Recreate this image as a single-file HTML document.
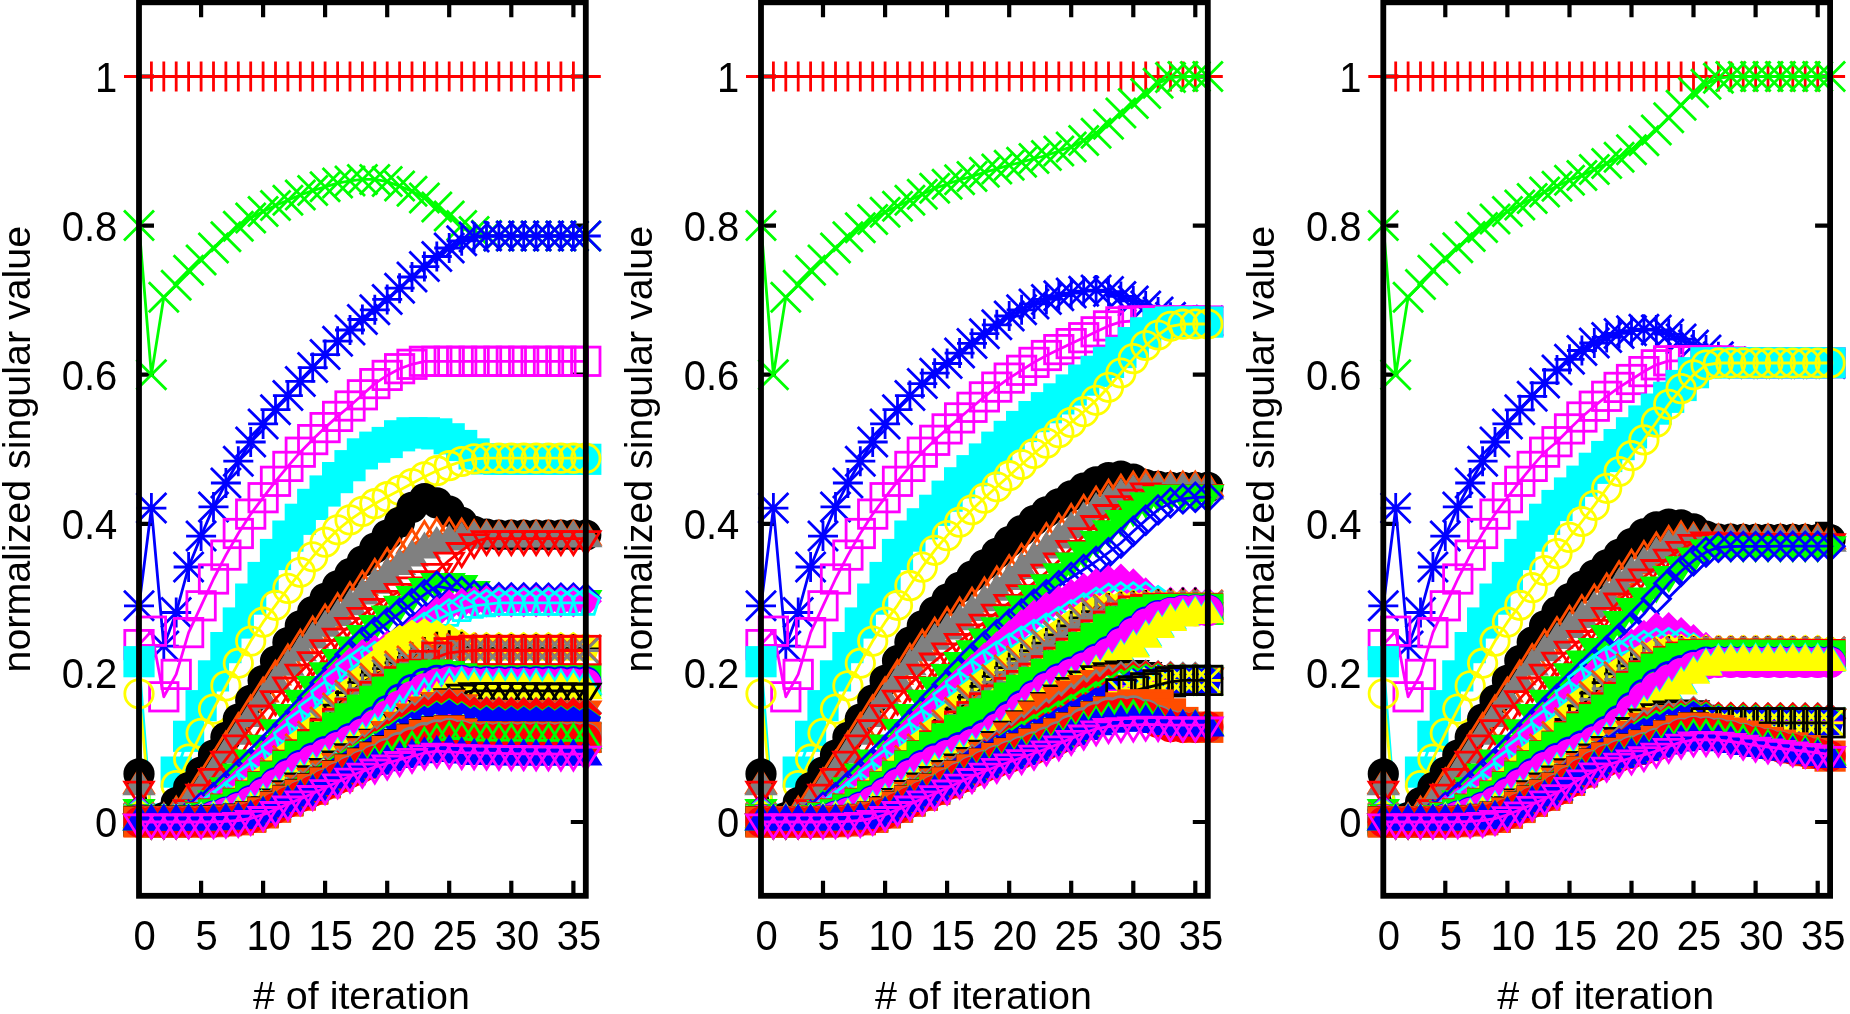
<!DOCTYPE html>
<html><head><meta charset="utf-8"><title>normalized singular value vs # of iteration</title>
<style>html,body{margin:0;padding:0;background:#fff}svg{display:block;filter:blur(0.55px)}</style></head>
<body>
<svg width="1850" height="1014" viewBox="0 0 1850 1014">
<defs>
<marker id="m1" markerUnits="userSpaceOnUse" markerWidth="44" markerHeight="44" refX="0" refY="0" viewBox="-22 -22 44 44" orient="0" overflow="visible"><path d="M-15.0 0H15.0M0 -15.0V15.0" stroke="#ff0000" stroke-width="2.8" fill="none"/></marker>
<marker id="m2" markerUnits="userSpaceOnUse" markerWidth="44" markerHeight="44" refX="0" refY="0" viewBox="-22 -22 44 44" orient="0" overflow="visible"><path d="M-15.0 -15.0L15.0 15.0M-15.0 15.0L15.0 -15.0" stroke="#00ff00" stroke-width="2.8" fill="none"/></marker>
<marker id="m3" markerUnits="userSpaceOnUse" markerWidth="44" markerHeight="44" refX="0" refY="0" viewBox="-22 -22 44 44" orient="0" overflow="visible"><path d="M-15.0 0H15.0M0 -15.0V15.0M-15.0 -15.0L15.0 15.0M-15.0 15.0L15.0 -15.0" stroke="#0000ff" stroke-width="2.8" fill="none"/></marker>
<marker id="m4" markerUnits="userSpaceOnUse" markerWidth="44" markerHeight="44" refX="0" refY="0" viewBox="-22 -22 44 44" orient="0" overflow="visible"><rect x="-14.2" y="-14.2" width="28.4" height="28.4" stroke="#ff00ff" stroke-width="2.8" fill="none"/></marker>
<marker id="m5" markerUnits="userSpaceOnUse" markerWidth="44" markerHeight="44" refX="0" refY="0" viewBox="-22 -22 44 44" orient="0" overflow="visible"><rect x="-14.2" y="-14.2" width="28.4" height="28.4" fill="#00ffff" stroke="#00ffff" stroke-width="2.8"/></marker>
<marker id="m6" markerUnits="userSpaceOnUse" markerWidth="44" markerHeight="44" refX="0" refY="0" viewBox="-22 -22 44 44" orient="0" overflow="visible"><circle r="14.2" stroke="#ffff00" stroke-width="2.8" fill="none"/></marker>
<marker id="m7" markerUnits="userSpaceOnUse" markerWidth="44" markerHeight="44" refX="0" refY="0" viewBox="-22 -22 44 44" orient="0" overflow="visible"><circle r="14.2" fill="#000000" stroke="#000000" stroke-width="2.8"/></marker>
<marker id="m8" markerUnits="userSpaceOnUse" markerWidth="44" markerHeight="44" refX="0" refY="0" viewBox="-22 -22 44 44" orient="0" overflow="visible"><path d="M0 -15.90L-14.2 7.10H14.2Z" stroke="#ff4d00" stroke-width="2.8" fill="none"/></marker>
<marker id="m9" markerUnits="userSpaceOnUse" markerWidth="44" markerHeight="44" refX="0" refY="0" viewBox="-22 -22 44 44" orient="0" overflow="visible"><path d="M0 -15.90L-14.2 7.10H14.2Z" fill="#808080" stroke="#808080" stroke-width="2.8"/></marker>
<marker id="m10" markerUnits="userSpaceOnUse" markerWidth="44" markerHeight="44" refX="0" refY="0" viewBox="-22 -22 44 44" orient="0" overflow="visible"><path d="M0 15.90L-14.2 -7.10H14.2Z" stroke="#ff0000" stroke-width="2.8" fill="none"/></marker>
<marker id="m11" markerUnits="userSpaceOnUse" markerWidth="44" markerHeight="44" refX="0" refY="0" viewBox="-22 -22 44 44" orient="0" overflow="visible"><path d="M0 15.90L-14.2 -7.10H14.2Z" fill="#00ff00" stroke="#00ff00" stroke-width="2.8"/></marker>
<marker id="m12" markerUnits="userSpaceOnUse" markerWidth="44" markerHeight="44" refX="0" refY="0" viewBox="-22 -22 44 44" orient="0" overflow="visible"><path d="M0 -14.2L-14.2 0L0 14.2L14.2 0Z" stroke="#0000ff" stroke-width="2.8" fill="none"/></marker>
<marker id="m13" markerUnits="userSpaceOnUse" markerWidth="44" markerHeight="44" refX="0" refY="0" viewBox="-22 -22 44 44" orient="0" overflow="visible"><path d="M0 -14.2L-14.2 0L0 14.2L14.2 0Z" fill="#ff00ff" stroke="#ff00ff" stroke-width="2.8"/></marker>
<marker id="m14" markerUnits="userSpaceOnUse" markerWidth="44" markerHeight="44" refX="0" refY="0" viewBox="-22 -22 44 44" orient="0" overflow="visible"><path d="M0.00 -14.20L-13.51 -4.39L-8.35 11.49L8.35 11.49L13.51 -4.39Z" stroke="#00ffff" stroke-width="2.8" fill="none"/></marker>
<marker id="m15" markerUnits="userSpaceOnUse" markerWidth="44" markerHeight="44" refX="0" refY="0" viewBox="-22 -22 44 44" orient="0" overflow="visible"><path d="M0.00 -14.20L-13.51 -4.39L-8.35 11.49L8.35 11.49L13.51 -4.39Z" fill="#ffff00" stroke="#ffff00" stroke-width="2.8"/></marker>
<marker id="m16" markerUnits="userSpaceOnUse" markerWidth="44" markerHeight="44" refX="0" refY="0" viewBox="-22 -22 44 44" orient="0" overflow="visible"><path d="M-15.0 0H15.0M0 -15.0V15.0" stroke="#000000" stroke-width="2.8" fill="none"/></marker>
<marker id="m17" markerUnits="userSpaceOnUse" markerWidth="44" markerHeight="44" refX="0" refY="0" viewBox="-22 -22 44 44" orient="0" overflow="visible"><path d="M-15.0 -15.0L15.0 15.0M-15.0 15.0L15.0 -15.0" stroke="#ff4d00" stroke-width="2.8" fill="none"/></marker>
<marker id="m18" markerUnits="userSpaceOnUse" markerWidth="44" markerHeight="44" refX="0" refY="0" viewBox="-22 -22 44 44" orient="0" overflow="visible"><path d="M-15.0 0H15.0M0 -15.0V15.0M-15.0 -15.0L15.0 15.0M-15.0 15.0L15.0 -15.0" stroke="#808080" stroke-width="2.8" fill="none"/></marker>
<marker id="m19" markerUnits="userSpaceOnUse" markerWidth="44" markerHeight="44" refX="0" refY="0" viewBox="-22 -22 44 44" orient="0" overflow="visible"><rect x="-14.2" y="-14.2" width="28.4" height="28.4" stroke="#ff0000" stroke-width="2.8" fill="none"/></marker>
<marker id="m20" markerUnits="userSpaceOnUse" markerWidth="44" markerHeight="44" refX="0" refY="0" viewBox="-22 -22 44 44" orient="0" overflow="visible"><rect x="-14.2" y="-14.2" width="28.4" height="28.4" fill="#00ff00" stroke="#00ff00" stroke-width="2.8"/></marker>
<marker id="m21" markerUnits="userSpaceOnUse" markerWidth="44" markerHeight="44" refX="0" refY="0" viewBox="-22 -22 44 44" orient="0" overflow="visible"><circle r="14.2" stroke="#0000ff" stroke-width="2.8" fill="none"/></marker>
<marker id="m22" markerUnits="userSpaceOnUse" markerWidth="44" markerHeight="44" refX="0" refY="0" viewBox="-22 -22 44 44" orient="0" overflow="visible"><circle r="14.2" fill="#ff00ff" stroke="#ff00ff" stroke-width="2.8"/></marker>
<marker id="m23" markerUnits="userSpaceOnUse" markerWidth="44" markerHeight="44" refX="0" refY="0" viewBox="-22 -22 44 44" orient="0" overflow="visible"><path d="M0 -15.90L-14.2 7.10H14.2Z" stroke="#00ffff" stroke-width="2.8" fill="none"/></marker>
<marker id="m24" markerUnits="userSpaceOnUse" markerWidth="44" markerHeight="44" refX="0" refY="0" viewBox="-22 -22 44 44" orient="0" overflow="visible"><path d="M0 -15.90L-14.2 7.10H14.2Z" fill="#ffff00" stroke="#ffff00" stroke-width="2.8"/></marker>
<marker id="m25" markerUnits="userSpaceOnUse" markerWidth="44" markerHeight="44" refX="0" refY="0" viewBox="-22 -22 44 44" orient="0" overflow="visible"><path d="M0 15.90L-14.2 -7.10H14.2Z" stroke="#000000" stroke-width="2.8" fill="none"/></marker>
<marker id="m26" markerUnits="userSpaceOnUse" markerWidth="44" markerHeight="44" refX="0" refY="0" viewBox="-22 -22 44 44" orient="0" overflow="visible"><path d="M0 15.90L-14.2 -7.10H14.2Z" fill="#ff4d00" stroke="#ff4d00" stroke-width="2.8"/></marker>
<marker id="m27" markerUnits="userSpaceOnUse" markerWidth="44" markerHeight="44" refX="0" refY="0" viewBox="-22 -22 44 44" orient="0" overflow="visible"><path d="M0 -14.2L-14.2 0L0 14.2L14.2 0Z" stroke="#808080" stroke-width="2.8" fill="none"/></marker>
<marker id="m28" markerUnits="userSpaceOnUse" markerWidth="44" markerHeight="44" refX="0" refY="0" viewBox="-22 -22 44 44" orient="0" overflow="visible"><path d="M0 -14.2L-14.2 0L0 14.2L14.2 0Z" fill="#ff0000" stroke="#ff0000" stroke-width="2.8"/></marker>
<marker id="m29" markerUnits="userSpaceOnUse" markerWidth="44" markerHeight="44" refX="0" refY="0" viewBox="-22 -22 44 44" orient="0" overflow="visible"><path d="M0.00 -14.20L-13.51 -4.39L-8.35 11.49L8.35 11.49L13.51 -4.39Z" stroke="#00ff00" stroke-width="2.8" fill="none"/></marker>
<marker id="m30" markerUnits="userSpaceOnUse" markerWidth="44" markerHeight="44" refX="0" refY="0" viewBox="-22 -22 44 44" orient="0" overflow="visible"><path d="M0.00 -14.20L-13.51 -4.39L-8.35 11.49L8.35 11.49L13.51 -4.39Z" fill="#0000ff" stroke="#0000ff" stroke-width="2.8"/></marker>
<marker id="m31" markerUnits="userSpaceOnUse" markerWidth="44" markerHeight="44" refX="0" refY="0" viewBox="-22 -22 44 44" orient="0" overflow="visible"><path d="M-15.0 0H15.0M0 -15.0V15.0" stroke="#ff00ff" stroke-width="2.8" fill="none"/></marker>
<marker id="m32" markerUnits="userSpaceOnUse" markerWidth="44" markerHeight="44" refX="0" refY="0" viewBox="-22 -22 44 44" orient="0" overflow="visible"><path d="M-15.0 -15.0L15.0 15.0M-15.0 15.0L15.0 -15.0" stroke="#00ffff" stroke-width="2.8" fill="none"/></marker>
<marker id="m33" markerUnits="userSpaceOnUse" markerWidth="44" markerHeight="44" refX="0" refY="0" viewBox="-22 -22 44 44" orient="0" overflow="visible"><path d="M-15.0 0H15.0M0 -15.0V15.0M-15.0 -15.0L15.0 15.0M-15.0 15.0L15.0 -15.0" stroke="#ffff00" stroke-width="2.8" fill="none"/></marker>
<marker id="m34" markerUnits="userSpaceOnUse" markerWidth="44" markerHeight="44" refX="0" refY="0" viewBox="-22 -22 44 44" orient="0" overflow="visible"><rect x="-14.2" y="-14.2" width="28.4" height="28.4" stroke="#000000" stroke-width="2.8" fill="none"/></marker>
<marker id="m35" markerUnits="userSpaceOnUse" markerWidth="44" markerHeight="44" refX="0" refY="0" viewBox="-22 -22 44 44" orient="0" overflow="visible"><rect x="-14.2" y="-14.2" width="28.4" height="28.4" fill="#ff4d00" stroke="#ff4d00" stroke-width="2.8"/></marker>
<marker id="m36" markerUnits="userSpaceOnUse" markerWidth="44" markerHeight="44" refX="0" refY="0" viewBox="-22 -22 44 44" orient="0" overflow="visible"><circle r="14.2" stroke="#808080" stroke-width="2.8" fill="none"/></marker>
<marker id="m37" markerUnits="userSpaceOnUse" markerWidth="44" markerHeight="44" refX="0" refY="0" viewBox="-22 -22 44 44" orient="0" overflow="visible"><circle r="14.2" fill="#ff0000" stroke="#ff0000" stroke-width="2.8"/></marker>
<marker id="m38" markerUnits="userSpaceOnUse" markerWidth="44" markerHeight="44" refX="0" refY="0" viewBox="-22 -22 44 44" orient="0" overflow="visible"><path d="M0 -15.90L-14.2 7.10H14.2Z" stroke="#00ff00" stroke-width="2.8" fill="none"/></marker>
<marker id="m39" markerUnits="userSpaceOnUse" markerWidth="44" markerHeight="44" refX="0" refY="0" viewBox="-22 -22 44 44" orient="0" overflow="visible"><path d="M0 -15.90L-14.2 7.10H14.2Z" fill="#0000ff" stroke="#0000ff" stroke-width="2.8"/></marker>
<marker id="m40" markerUnits="userSpaceOnUse" markerWidth="44" markerHeight="44" refX="0" refY="0" viewBox="-22 -22 44 44" orient="0" overflow="visible"><path d="M0 15.90L-14.2 -7.10H14.2Z" stroke="#ff00ff" stroke-width="2.8" fill="none"/></marker>
</defs>
<rect width="1850" height="1014" fill="#fff"/>
<path d="M201.1 895.8v-15M201.1 2.3v15M263.1 895.8v-15M263.1 2.3v15M325.1 895.8v-15M325.1 2.3v15M387.2 895.8v-15M387.2 2.3v15M449.2 895.8v-15M449.2 2.3v15M511.3 895.8v-15M511.3 2.3v15M573.4 895.8v-15M573.4 2.3v15M139.0 822.0h15M585.8 822.0h-15M139.0 672.9h15M585.8 672.9h-15M139.0 523.8h15M585.8 523.8h-15M139.0 374.7h15M585.8 374.7h-15M139.0 225.6h15M585.8 225.6h-15M139.0 76.5h15M585.8 76.5h-15" stroke="#000" stroke-width="4.2" fill="none"/>
<path d="M823.0 895.8v-15M823.0 2.3v15M885.1 895.8v-15M885.1 2.3v15M947.1 895.8v-15M947.1 2.3v15M1009.2 895.8v-15M1009.2 2.3v15M1071.2 895.8v-15M1071.2 2.3v15M1133.3 895.8v-15M1133.3 2.3v15M1195.3 895.8v-15M1195.3 2.3v15M761.0 822.0h15M1207.8 822.0h-15M761.0 672.9h15M1207.8 672.9h-15M761.0 523.8h15M1207.8 523.8h-15M761.0 374.7h15M1207.8 374.7h-15M761.0 225.6h15M1207.8 225.6h-15M761.0 76.5h15M1207.8 76.5h-15" stroke="#000" stroke-width="4.2" fill="none"/>
<path d="M1445.3 895.8v-15M1445.3 2.3v15M1507.4 895.8v-15M1507.4 2.3v15M1569.5 895.8v-15M1569.5 2.3v15M1631.5 895.8v-15M1631.5 2.3v15M1693.5 895.8v-15M1693.5 2.3v15M1755.6 895.8v-15M1755.6 2.3v15M1817.7 895.8v-15M1817.7 2.3v15M1383.3 822.0h15M1830.1 822.0h-15M1383.3 672.9h15M1830.1 672.9h-15M1383.3 523.8h15M1830.1 523.8h-15M1383.3 374.7h15M1830.1 374.7h-15M1383.3 225.6h15M1830.1 225.6h-15M1383.3 76.5h15M1830.1 76.5h-15" stroke="#000" stroke-width="4.2" fill="none"/>
<polyline points="139.0,76.5 151.4,76.5 163.8,76.5 176.2,76.5 188.6,76.5 201.1,76.5 213.5,76.5 225.9,76.5 238.3,76.5 250.7,76.5 263.1,76.5 275.5,76.5 287.9,76.5 300.3,76.5 312.7,76.5 325.1,76.5 337.6,76.5 350.0,76.5 362.4,76.5 374.8,76.5 387.2,76.5 399.6,76.5 412.0,76.5 424.4,76.5 436.8,76.5 449.2,76.5 461.7,76.5 474.1,76.5 486.5,76.5 498.9,76.5 511.3,76.5 523.7,76.5 536.1,76.5 548.5,76.5 560.9,76.5 573.4,76.5 585.8,76.5" fill="none" stroke="#ff0000" stroke-width="2.8" stroke-linejoin="round" marker-start="url(#m1)" marker-mid="url(#m1)" marker-end="url(#m1)"/>
<polyline points="139.0,225.6 151.4,374.7 163.8,297.2 176.2,285.2 188.6,270.3 201.1,259.9 213.5,248.0 225.9,236.8 238.3,226.3 250.7,218.1 263.1,211.4 275.5,205.5 287.9,200.3 300.3,195.0 312.7,190.6 325.1,186.8 337.6,183.1 350.0,180.9 362.4,179.4 374.8,179.4 387.2,181.6 399.6,186.1 412.0,191.3 424.4,198.0 436.8,207.0 449.2,215.9 461.7,225.6 474.1,231.6 486.5,235.3 498.9,236.0 511.3,236.0 523.7,236.0 536.1,236.0 548.5,236.0 560.9,236.0 573.4,236.0 585.8,236.0" fill="none" stroke="#00ff00" stroke-width="2.8" stroke-linejoin="round" marker-start="url(#m2)" marker-mid="url(#m2)" marker-end="url(#m2)"/>
<polyline points="139.0,605.8 151.4,508.1 163.8,646.1 176.2,612.5 188.6,567.0 201.1,536.1 213.5,506.9 225.9,483.0 238.3,461.2 250.7,442.0 263.1,423.9 275.5,409.7 287.9,395.6 300.3,381.4 312.7,367.6 325.1,354.6 337.6,341.2 350.0,330.0 362.4,319.5 374.8,309.8 387.2,299.4 399.6,288.2 412.0,277.0 424.4,266.6 436.8,256.5 449.2,248.0 461.7,240.8 474.1,237.1 486.5,236.0 498.9,236.0 511.3,236.0 523.7,236.0 536.1,236.0 548.5,236.0 560.9,236.0 573.4,236.0 585.8,236.0" fill="none" stroke="#0000ff" stroke-width="2.8" stroke-linejoin="round" marker-start="url(#m3)" marker-mid="url(#m3)" marker-end="url(#m3)"/>
<polyline points="139.0,644.6 151.4,631.2 163.8,696.8 176.2,674.4 188.6,632.6 201.1,605.8 213.5,579.0 225.9,555.1 238.3,533.5 250.7,514.1 263.1,497.7 275.5,481.3 287.9,466.4 300.3,452.2 312.7,439.6 325.1,427.6 337.6,416.4 350.0,406.0 362.4,394.8 374.8,383.6 387.2,375.4 399.6,368.7 412.0,364.3 424.4,361.3 436.8,361.3 449.2,361.3 461.7,361.3 474.1,361.3 486.5,361.3 498.9,361.3 511.3,361.3 523.7,361.3 536.1,361.3 548.5,361.3 560.9,361.3 573.4,361.3 585.8,361.3" fill="none" stroke="#ff00ff" stroke-width="2.8" stroke-linejoin="round" marker-start="url(#m4)" marker-mid="url(#m4)" marker-end="url(#m4)"/>
<polyline points="139.0,661.7 151.4,820.5 163.8,819.0 176.2,772.1 188.6,736.3 201.1,705.7 213.5,675.9 225.9,647.6 238.3,623.0 250.7,599.1 263.1,577.5 275.5,554.5 287.9,536.1 300.3,519.3 312.7,504.4 325.1,491.0 337.6,477.6 350.0,465.7 362.4,453.9 374.8,447.2 387.2,442.5 399.6,435.8 412.0,432.8 424.4,432.8 436.8,433.9 449.2,438.8 461.7,445.5 474.1,453.9 486.5,458.9 498.9,459.3 511.3,459.3 523.7,459.3 536.1,459.3 548.5,459.3 560.9,459.3 573.4,459.3 585.8,459.3" fill="none" stroke="#00ffff" stroke-width="2.8" stroke-linejoin="round" marker-start="url(#m5)" marker-mid="url(#m5)" marker-end="url(#m5)"/>
<polyline points="139.0,693.8 151.4,820.5 163.8,819.8 176.2,785.5 188.6,759.0 201.1,733.3 213.5,709.1 225.9,685.9 238.3,663.2 250.7,641.1 263.1,622.2 275.5,605.3 287.9,588.4 300.3,572.3 312.7,556.8 325.1,542.2 337.6,529.8 350.0,519.9 362.4,511.4 374.8,503.7 387.2,496.7 399.6,490.3 412.0,483.6 424.4,476.8 436.8,470.7 449.2,465.7 461.7,461.5 474.1,458.9 486.5,458.2 498.9,458.2 511.3,458.2 523.7,458.2 536.1,458.2 548.5,458.2 560.9,458.2 573.4,458.2 585.8,458.2" fill="none" stroke="#ffff00" stroke-width="2.8" stroke-linejoin="round" marker-start="url(#m6)" marker-mid="url(#m6)" marker-end="url(#m6)"/>
<polyline points="139.0,773.9 151.4,819.8 163.8,817.5 176.2,802.6 188.6,787.6 201.1,772.1 213.5,755.1 225.9,737.3 238.3,719.1 250.7,700.3 263.1,680.6 275.5,661.1 287.9,642.5 300.3,625.9 312.7,611.5 325.1,598.3 337.6,585.9 350.0,573.7 362.4,561.1 374.8,548.0 387.2,535.0 399.6,522.3 412.0,507.4 424.4,498.7 436.8,502.9 449.2,511.1 461.7,522.3 474.1,531.3 486.5,534.2 498.9,535.0 511.3,535.0 523.7,535.0 536.1,535.0 548.5,535.0 560.9,535.0 573.4,535.0 585.8,535.0" fill="none" stroke="#000000" stroke-width="2.8" stroke-linejoin="round" marker-start="url(#m7)" marker-mid="url(#m7)" marker-end="url(#m7)"/>
<polyline points="139.0,785.5 151.4,819.8 163.8,819.8 176.2,813.1 188.6,800.7 201.1,784.7 213.5,767.3 225.9,748.1 238.3,729.6 250.7,711.8 263.1,694.1 275.5,677.0 287.9,660.8 300.3,646.1 312.7,632.9 325.1,620.9 337.6,609.6 350.0,598.5 362.4,587.2 374.8,575.4 387.2,564.3 399.6,554.8 412.0,545.3 424.4,537.4 436.8,534.2 449.2,534.2 461.7,535.0 474.1,536.5 486.5,537.2 498.9,537.2 511.3,537.2 523.7,537.2 536.1,537.2 548.5,537.2 560.9,537.2 573.4,537.2 585.8,537.2" fill="none" stroke="#ff4d00" stroke-width="2.8" stroke-linejoin="round" marker-start="url(#m8)" marker-mid="url(#m8)" marker-end="url(#m8)"/>
<polyline points="139.0,786.7 151.4,820.5 163.8,820.5 176.2,816.0 188.6,805.5 201.1,790.7 213.5,773.9 225.9,754.9 238.3,736.3 250.7,718.6 263.1,700.8 275.5,683.5 287.9,667.3 300.3,652.8 312.7,640.0 325.1,628.3 337.6,617.4 350.0,606.8 362.4,596.1 374.8,585.3 387.2,575.2 399.6,566.6 412.0,557.9 424.4,550.1 436.8,544.5 449.2,542.1 461.7,540.2 474.1,538.7 486.5,538.7 498.9,538.7 511.3,538.7 523.7,538.7 536.1,538.7 548.5,538.7 560.9,538.7 573.4,538.7 585.8,538.7" fill="none" stroke="#808080" stroke-width="2.8" stroke-linejoin="round" marker-start="url(#m9)" marker-mid="url(#m9)" marker-end="url(#m9)"/>
<polyline points="139.0,789.2 151.4,821.3 163.8,821.3 176.2,818.3 188.6,807.7 201.1,792.2 213.5,776.4 225.9,759.3 238.3,743.0 250.7,727.8 263.1,713.1 275.5,698.8 287.9,685.1 300.3,672.2 312.7,659.7 325.1,647.7 337.6,636.3 350.0,625.5 362.4,615.5 374.8,606.4 387.2,598.4 399.6,591.4 412.0,584.9 424.4,578.7 436.8,571.5 449.2,560.3 461.7,550.6 474.1,541.7 486.5,538.7 498.9,538.7 511.3,538.7 523.7,538.7 536.1,538.7 548.5,538.7 560.9,538.7 573.4,538.7 585.8,538.7" fill="none" stroke="#ff0000" stroke-width="2.8" stroke-linejoin="round" marker-start="url(#m10)" marker-mid="url(#m10)" marker-end="url(#m10)"/>
<polyline points="139.0,807.6 151.4,822.0 163.8,822.0 176.2,819.8 188.6,815.3 201.1,808.6 213.5,798.7 225.9,785.7 238.3,772.1 250.7,758.1 263.1,743.2 275.5,727.8 287.9,712.6 300.3,698.2 312.7,684.4 325.1,670.7 337.6,657.4 350.0,644.9 362.4,633.4 374.8,623.4 387.2,614.0 399.6,604.3 412.0,594.6 424.4,586.4 436.8,581.5 449.2,581.5 461.7,583.4 474.1,589.4 486.5,596.1 498.9,598.4 511.3,598.4 523.7,598.4 536.1,598.4 548.5,598.4 560.9,598.4 573.4,598.4 585.8,598.4" fill="none" stroke="#00ff00" stroke-width="2.8" stroke-linejoin="round" marker-start="url(#m11)" marker-mid="url(#m11)" marker-end="url(#m11)"/>
<polyline points="139.0,810.1 151.4,822.0 163.8,822.0 176.2,820.5 188.6,815.3 201.1,807.1 213.5,797.7 225.9,786.7 238.3,775.0 250.7,763.2 263.1,750.8 275.5,738.0 287.9,724.9 300.3,711.7 312.7,697.8 325.1,683.1 337.6,668.4 350.0,654.5 362.4,642.3 374.8,632.3 387.2,623.0 399.6,613.2 412.0,603.6 424.4,594.6 436.8,586.2 449.2,588.7 461.7,591.6 474.1,595.4 486.5,597.6 498.9,597.8 511.3,597.9 523.7,598.0 536.1,598.0 548.5,598.1 560.9,598.1 573.4,598.1 585.8,598.1" fill="none" stroke="#0000ff" stroke-width="2.8" stroke-linejoin="round" marker-start="url(#m12)" marker-mid="url(#m12)" marker-end="url(#m12)"/>
<polyline points="139.0,810.8 151.4,822.0 163.8,822.0 176.2,821.3 188.6,817.4 201.1,810.8 213.5,803.1 225.9,793.6 238.3,783.2 250.7,771.7 263.1,758.9 275.5,745.3 287.9,731.6 300.3,718.4 312.7,704.5 325.1,689.6 337.6,675.3 350.0,663.2 362.4,655.0 374.8,650.8 387.2,646.8 399.6,640.7 412.0,632.6 424.4,621.5 436.8,612.5 449.2,605.8 461.7,603.6 474.1,602.1 486.5,601.3 498.9,601.3 511.3,601.3 523.7,601.3 536.1,601.3 548.5,601.3 560.9,601.3 573.4,601.3 585.8,601.3" fill="none" stroke="#ff00ff" stroke-width="2.8" stroke-linejoin="round" marker-start="url(#m13)" marker-mid="url(#m13)" marker-end="url(#m13)"/>
<polyline points="139.0,813.1 151.4,822.0 163.8,822.0 176.2,822.0 188.6,819.0 201.1,813.1 213.5,806.2 225.9,797.4 238.3,787.7 250.7,776.8 263.1,764.3 275.5,751.0 287.9,737.4 300.3,724.3 312.7,710.6 325.1,695.9 337.6,681.7 350.0,669.5 362.4,661.0 374.8,656.4 387.2,652.0 399.6,644.4 412.0,635.6 424.4,627.4 436.8,620.0 449.2,613.9 461.7,609.1 474.1,605.8 486.5,604.3 498.9,602.8 511.3,602.8 523.7,602.8 536.1,602.8 548.5,602.8 560.9,602.8 573.4,602.8 585.8,602.8" fill="none" stroke="#00ffff" stroke-width="2.8" stroke-linejoin="round" marker-start="url(#m14)" marker-mid="url(#m14)" marker-end="url(#m14)"/>
<polyline points="139.0,814.5 151.4,822.0 163.8,822.0 176.2,822.0 188.6,820.0 201.1,816.0 213.5,811.5 225.9,805.8 238.3,798.9 250.7,790.3 263.1,779.6 275.5,767.7 287.9,755.3 300.3,743.0 312.7,730.7 325.1,717.9 337.6,704.9 350.0,691.8 362.4,678.9 374.8,664.9 387.2,650.9 399.6,640.8 412.0,635.6 424.4,634.1 436.8,635.6 449.2,639.4 461.7,644.6 474.1,647.6 486.5,647.6 498.9,647.6 511.3,647.6 523.7,647.6 536.1,647.6 548.5,647.6 560.9,647.6 573.4,647.6 585.8,647.6" fill="none" stroke="#ffff00" stroke-width="2.8" stroke-linejoin="round" marker-start="url(#m15)" marker-mid="url(#m15)" marker-end="url(#m15)"/>
<polyline points="139.0,816.0 151.4,822.0 163.8,822.0 176.2,822.0 188.6,820.3 201.1,816.8 213.5,812.6 225.9,807.0 238.3,800.4 250.7,792.1 263.1,781.7 275.5,770.1 287.9,758.0 300.3,746.0 312.7,733.2 325.1,719.2 337.6,705.2 350.0,692.6 362.4,682.6 374.8,675.0 387.2,668.6 399.6,662.8 412.0,657.4 424.4,652.0 436.8,646.8 449.2,645.3 461.7,646.8 474.1,649.0 486.5,649.0 498.9,649.0 511.3,649.0 523.7,649.0 536.1,649.0 548.5,649.0 560.9,649.0 573.4,649.0 585.8,649.0" fill="none" stroke="#000000" stroke-width="2.8" stroke-linejoin="round" marker-start="url(#m16)" marker-mid="url(#m16)" marker-end="url(#m16)"/>
<polyline points="139.0,817.5 151.4,822.0 163.8,822.0 176.2,822.0 188.6,820.2 201.1,816.8 213.5,812.9 225.9,807.9 238.3,801.9 250.7,794.0 263.1,784.0 275.5,772.7 287.9,760.8 300.3,748.9 312.7,736.2 325.1,722.1 337.6,708.0 350.0,695.3 362.4,685.6 374.8,678.2 387.2,671.8 399.6,666.1 412.0,661.0 424.4,656.4 436.8,652.0 449.2,648.3 461.7,648.3 474.1,649.8 486.5,649.8 498.9,649.8 511.3,649.8 523.7,649.8 536.1,649.8 548.5,649.8 560.9,649.8 573.4,649.8 585.8,649.8" fill="none" stroke="#ff4d00" stroke-width="2.8" stroke-linejoin="round" marker-start="url(#m17)" marker-mid="url(#m17)" marker-end="url(#m17)"/>
<polyline points="139.0,818.3 151.4,822.0 163.8,822.0 176.2,822.0 188.6,820.5 201.1,817.5 213.5,813.8 225.9,808.7 238.3,802.6 250.7,795.0 263.1,785.5 275.5,774.8 287.9,763.4 300.3,751.9 312.7,739.3 325.1,725.1 337.6,710.9 350.0,698.2 362.4,688.6 374.8,681.3 387.2,674.8 399.6,668.9 412.0,663.6 424.4,659.1 436.8,655.2 449.2,652.0 461.7,649.8 474.1,650.5 486.5,650.5 498.9,650.5 511.3,650.5 523.7,650.5 536.1,650.5 548.5,650.5 560.9,650.5 573.4,650.5 585.8,650.5" fill="none" stroke="#808080" stroke-width="2.8" stroke-linejoin="round" marker-start="url(#m18)" marker-mid="url(#m18)" marker-end="url(#m18)"/>
<polyline points="139.0,819.8 151.4,822.0 163.8,822.0 176.2,822.0 188.6,820.5 201.1,817.5 213.5,813.9 225.9,809.1 238.3,803.4 250.7,796.0 263.1,786.6 275.5,776.1 287.9,765.3 300.3,754.9 312.7,744.6 325.1,734.0 337.6,723.4 350.0,713.3 362.4,704.2 374.8,696.5 387.2,689.3 399.6,681.8 412.0,674.4 424.4,665.4 436.8,657.2 449.2,652.8 461.7,651.3 474.1,650.5 486.5,650.5 498.9,650.5 511.3,650.5 523.7,650.5 536.1,650.5 548.5,650.5 560.9,650.5 573.4,650.5 585.8,650.5" fill="none" stroke="#ff0000" stroke-width="2.8" stroke-linejoin="round" marker-start="url(#m19)" marker-mid="url(#m19)" marker-end="url(#m19)"/>
<polyline points="139.0,819.8 151.4,822.0 163.8,822.0 176.2,822.0 188.6,820.8 201.1,818.3 213.5,814.8 225.9,809.9 238.3,804.1 250.7,796.7 263.1,787.4 275.5,777.0 287.9,766.4 300.3,756.4 312.7,746.9 325.1,737.4 337.6,728.0 350.0,718.9 362.4,710.2 374.8,701.3 387.2,692.3 399.6,684.4 412.0,678.9 424.4,675.9 436.8,675.1 449.2,676.6 461.7,678.9 474.1,681.1 486.5,681.1 498.9,681.1 511.3,681.1 523.7,681.1 536.1,681.1 548.5,681.1 560.9,681.1 573.4,681.1 585.8,681.1" fill="none" stroke="#00ff00" stroke-width="2.8" stroke-linejoin="round" marker-start="url(#m20)" marker-mid="url(#m20)" marker-end="url(#m20)"/>
<polyline points="139.0,819.8 151.4,822.0 163.8,822.0 176.2,822.0 188.6,821.0 201.1,819.0 213.5,816.2 225.9,812.0 238.3,807.1 250.7,800.6 263.1,792.2 275.5,782.9 287.9,773.7 300.3,765.3 312.7,758.2 325.1,751.7 337.6,745.3 350.0,738.5 362.4,731.0 374.8,721.6 387.2,710.5 399.6,699.2 412.0,689.6 424.4,683.3 436.8,680.4 449.2,679.6 461.7,680.4 474.1,681.8 486.5,681.8 498.9,681.8 511.3,681.8 523.7,681.8 536.1,681.8 548.5,681.8 560.9,681.8 573.4,681.8 585.8,681.8" fill="none" stroke="#0000ff" stroke-width="2.8" stroke-linejoin="round" marker-start="url(#m21)" marker-mid="url(#m21)" marker-end="url(#m21)"/>
<polyline points="139.0,819.8 151.4,822.0 163.8,822.0 176.2,822.0 188.6,821.3 201.1,819.8 213.5,817.2 225.9,813.3 238.3,808.6 250.7,802.3 263.1,794.1 275.5,784.9 287.9,775.8 300.3,767.6 312.7,760.6 325.1,754.0 337.6,747.6 350.0,741.1 362.4,734.0 374.8,725.6 387.2,715.9 399.6,705.8 412.0,696.5 424.4,688.9 436.8,684.1 449.2,681.8 461.7,681.8 474.1,683.3 486.5,683.5 498.9,683.5 511.3,683.6 523.7,683.7 536.1,683.7 548.5,683.8 560.9,683.8 573.4,683.8 585.8,683.8" fill="none" stroke="#ff00ff" stroke-width="2.8" stroke-linejoin="round" marker-start="url(#m22)" marker-mid="url(#m22)" marker-end="url(#m22)"/>
<polyline points="139.0,819.8 151.4,822.0 163.8,822.0 176.2,822.0 188.6,821.2 201.1,819.8 213.5,818.1 225.9,815.9 238.3,813.1 250.7,808.4 263.1,801.6 275.5,793.6 287.9,785.1 300.3,777.3 312.7,770.0 325.1,762.7 337.6,755.3 350.0,747.8 362.4,740.0 374.8,731.4 387.2,721.9 399.6,712.3 412.0,703.1 424.4,695.2 436.8,689.3 449.2,685.6 461.7,684.1 474.1,685.6 486.5,685.8 498.9,685.9 511.3,686.0 523.7,686.1 536.1,686.2 548.5,686.3 560.9,686.3 573.4,686.3 585.8,686.3" fill="none" stroke="#00ffff" stroke-width="2.8" stroke-linejoin="round" marker-start="url(#m23)" marker-mid="url(#m23)" marker-end="url(#m23)"/>
<polyline points="139.0,819.8 151.4,822.0 163.8,822.0 176.2,822.0 188.6,821.5 201.1,820.5 213.5,819.2 225.9,817.2 238.3,814.5 250.7,810.2 263.1,803.5 275.5,795.6 287.9,787.3 300.3,779.5 312.7,772.2 325.1,764.6 337.6,757.1 350.0,749.6 362.4,742.2 374.8,734.9 387.2,727.4 399.6,719.9 412.0,712.6 424.4,705.7 436.8,699.4 449.2,693.8 461.7,689.3 474.1,690.0 486.5,690.2 498.9,690.4 511.3,690.5 523.7,690.6 536.1,690.7 548.5,690.7 560.9,690.8 573.4,690.8 585.8,690.8" fill="none" stroke="#ffff00" stroke-width="2.8" stroke-linejoin="round" marker-start="url(#m24)" marker-mid="url(#m24)" marker-end="url(#m24)"/>
<polyline points="139.0,822.0 151.4,822.0 163.8,822.0 176.2,822.0 188.6,821.5 201.1,820.5 213.5,819.3 225.9,817.6 238.3,815.3 250.7,811.2 263.1,804.7 275.5,796.9 287.9,788.7 300.3,781.0 312.7,773.8 325.1,766.4 337.6,759.0 350.0,751.7 362.4,744.5 374.8,737.3 387.2,729.9 399.6,722.5 412.0,715.4 424.4,708.6 436.8,702.3 449.2,696.8 461.7,692.3 474.1,690.8 486.5,690.8 498.9,690.8 511.3,690.8 523.7,690.8 536.1,690.9 548.5,690.9 560.9,691.0 573.4,691.1 585.8,691.2" fill="none" stroke="#000000" stroke-width="2.8" stroke-linejoin="round" marker-start="url(#m25)" marker-mid="url(#m25)" marker-end="url(#m25)"/>
<polyline points="139.0,822.0 151.4,822.0 163.8,822.0 176.2,822.0 188.6,821.5 201.1,820.5 213.5,819.4 225.9,818.0 238.3,816.0 250.7,812.3 263.1,806.1 275.5,798.6 287.9,790.7 300.3,783.2 312.7,776.2 325.1,769.0 337.6,761.6 350.0,754.2 362.4,746.7 374.8,738.5 387.2,729.4 399.6,720.3 412.0,711.9 424.4,705.0 436.8,700.5 449.2,698.2 461.7,702.7 474.1,707.9 486.5,708.2 498.9,708.4 511.3,708.6 523.7,708.7 536.1,708.8 548.5,708.8 560.9,708.9 573.4,708.9 585.8,708.9" fill="none" stroke="#ff4d00" stroke-width="2.8" stroke-linejoin="round" marker-start="url(#m26)" marker-mid="url(#m26)" marker-end="url(#m26)"/>
<polyline points="139.0,822.0 151.4,822.0 163.8,822.0 176.2,822.0 188.6,821.6 201.1,820.7 213.5,819.8 225.9,818.5 238.3,816.8 250.7,813.3 263.1,807.5 275.5,800.4 287.9,792.7 300.3,785.5 312.7,778.5 325.1,771.3 337.6,763.9 350.0,756.5 362.4,749.1 374.8,741.3 387.2,732.8 399.6,724.3 412.0,716.4 424.4,710.0 436.8,705.7 449.2,703.5 461.7,707.2 474.1,711.7 486.5,712.0 498.9,712.2 511.3,712.4 523.7,712.5 536.1,712.6 548.5,712.7 560.9,712.8 573.4,712.8 585.8,712.8" fill="none" stroke="#808080" stroke-width="2.8" stroke-linejoin="round" marker-start="url(#m27)" marker-mid="url(#m27)" marker-end="url(#m27)"/>
<polyline points="139.0,822.0 151.4,822.0 163.8,822.0 176.2,822.0 188.6,821.6 201.1,820.9 213.5,820.1 225.9,819.0 238.3,817.5 250.7,814.3 263.1,808.9 275.5,802.1 287.9,794.7 300.3,787.7 312.7,780.9 325.1,773.8 337.6,766.4 350.0,758.9 362.4,751.6 374.8,743.8 387.2,735.5 399.6,727.2 412.0,719.4 424.4,712.8 436.8,707.9 449.2,705.0 461.7,708.7 474.1,712.4 486.5,712.7 498.9,712.9 511.3,713.0 523.7,713.2 536.1,713.3 548.5,713.3 560.9,713.4 573.4,713.4 585.8,713.4" fill="none" stroke="#ff0000" stroke-width="2.8" stroke-linejoin="round" marker-start="url(#m28)" marker-mid="url(#m28)" marker-end="url(#m28)"/>
<polyline points="139.0,822.0 151.4,822.0 163.8,822.0 176.2,822.0 188.6,821.7 201.1,821.1 213.5,820.4 225.9,819.5 238.3,818.3 250.7,815.4 263.1,810.3 275.5,803.8 287.9,796.7 300.3,789.9 312.7,783.2 325.1,776.0 337.6,768.4 350.0,761.0 362.4,754.0 374.8,746.9 387.2,739.5 399.6,732.2 412.0,725.6 424.4,720.1 436.8,716.1 449.2,713.9 461.7,716.9 474.1,720.6 486.5,720.8 498.9,721.0 511.3,721.1 523.7,721.2 536.1,721.3 548.5,721.3 560.9,721.3 573.4,721.4 585.8,721.4" fill="none" stroke="#00ff00" stroke-width="2.8" stroke-linejoin="round" marker-start="url(#m29)" marker-mid="url(#m29)" marker-end="url(#m29)"/>
<polyline points="139.0,822.0 151.4,822.0 163.8,822.0 176.2,822.0 188.6,821.7 201.1,821.3 213.5,820.7 225.9,820.0 238.3,819.0 250.7,816.4 263.1,811.6 275.5,805.5 287.9,798.7 300.3,792.2 312.7,785.6 325.1,778.4 337.6,770.9 350.0,763.5 362.4,756.4 374.8,749.2 387.2,741.6 399.6,734.1 412.0,727.3 424.4,721.6 436.8,717.6 449.2,715.4 461.7,718.4 474.1,722.1 486.5,722.2 498.9,722.2 511.3,722.3 523.7,722.3 536.1,722.3 548.5,722.3 560.9,722.3 573.4,722.3 585.8,722.3" fill="none" stroke="#0000ff" stroke-width="2.8" stroke-linejoin="round" marker-start="url(#m30)" marker-mid="url(#m30)" marker-end="url(#m30)"/>
<polyline points="139.0,819.0 151.4,819.0 163.8,819.0 176.2,819.0 188.6,819.0 201.1,819.0 213.5,818.7 225.9,817.9 238.3,816.8 250.7,814.3 263.1,809.9 275.5,804.2 287.9,798.1 300.3,792.2 312.7,786.3 325.1,779.9 337.6,773.4 350.0,766.9 362.4,760.9 374.8,754.9 387.2,748.6 399.6,742.5 412.0,737.0 424.4,732.5 436.8,729.6 449.2,729.1 461.7,733.0 474.1,737.0 486.5,737.1 498.9,737.2 511.3,737.3 523.7,737.3 536.1,737.3 548.5,737.4 560.9,737.4 573.4,737.4 585.8,737.4" fill="none" stroke="#ff00ff" stroke-width="2.8" stroke-linejoin="round" marker-start="url(#m31)" marker-mid="url(#m31)" marker-end="url(#m31)"/>
<polyline points="139.0,819.8 151.4,819.8 163.8,819.8 176.2,819.8 188.6,819.8 201.1,819.8 213.5,819.5 225.9,818.6 238.3,817.5 250.7,815.1 263.1,810.6 275.5,805.0 287.9,798.8 300.3,792.9 312.7,787.1 325.1,780.7 337.6,774.1 350.0,767.6 362.4,761.6 374.8,755.6 387.2,749.3 399.6,743.2 412.0,737.7 424.4,733.3 436.8,730.3 449.2,729.6 461.7,733.3 474.1,737.0 486.5,737.1 498.9,737.2 511.3,737.3 523.7,737.3 536.1,737.3 548.5,737.4 560.9,737.4 573.4,737.4 585.8,737.4" fill="none" stroke="#00ffff" stroke-width="2.8" stroke-linejoin="round" marker-start="url(#m32)" marker-mid="url(#m32)" marker-end="url(#m32)"/>
<polyline points="139.0,820.5 151.4,820.5 163.8,820.5 176.2,820.5 188.6,820.5 201.1,820.5 213.5,820.2 225.9,819.4 238.3,818.3 250.7,815.8 263.1,811.4 275.5,805.7 287.9,799.6 300.3,793.7 312.7,787.8 325.1,781.4 337.6,774.8 350.0,768.4 362.4,762.4 374.8,756.4 387.2,750.1 399.6,744.0 412.0,738.5 424.4,734.0 436.8,731.0 449.2,730.1 461.7,733.5 474.1,737.0 486.5,737.1 498.9,737.2 511.3,737.3 523.7,737.3 536.1,737.3 548.5,737.4 560.9,737.4 573.4,737.4 585.8,737.4" fill="none" stroke="#ffff00" stroke-width="2.8" stroke-linejoin="round" marker-start="url(#m33)" marker-mid="url(#m33)" marker-end="url(#m33)"/>
<polyline points="139.0,821.3 151.4,821.3 163.8,821.3 176.2,821.3 188.6,821.3 201.1,821.3 213.5,820.9 225.9,820.1 238.3,819.0 250.7,816.6 263.1,812.1 275.5,806.5 287.9,800.3 300.3,794.4 312.7,788.5 325.1,782.2 337.6,775.6 350.0,769.1 362.4,763.1 374.8,757.1 387.2,750.8 399.6,744.7 412.0,739.2 424.4,734.7 436.8,731.8 449.2,730.6 461.7,733.8 474.1,737.0 486.5,737.1 498.9,737.2 511.3,737.3 523.7,737.3 536.1,737.3 548.5,737.4 560.9,737.4 573.4,737.4 585.8,737.4" fill="none" stroke="#000000" stroke-width="2.8" stroke-linejoin="round" marker-start="url(#m34)" marker-mid="url(#m34)" marker-end="url(#m34)"/>
<polyline points="139.0,822.0 151.4,822.0 163.8,822.0 176.2,822.0 188.6,822.0 201.1,822.0 213.5,821.7 225.9,820.9 238.3,819.8 250.7,817.3 263.1,812.9 275.5,807.2 287.9,801.1 300.3,795.2 312.7,789.3 325.1,782.9 337.6,776.3 350.0,769.9 362.4,763.9 374.8,757.9 387.2,751.6 399.6,745.5 412.0,739.9 424.4,735.5 436.8,732.5 449.2,731.0 461.7,734.0 474.1,737.0 486.5,737.1 498.9,737.2 511.3,737.3 523.7,737.3 536.1,737.3 548.5,737.4 560.9,737.4 573.4,737.4 585.8,737.4" fill="none" stroke="#ff4d00" stroke-width="2.8" stroke-linejoin="round" marker-start="url(#m35)" marker-mid="url(#m35)" marker-end="url(#m35)"/>
<polyline points="139.0,822.0 151.4,822.0 163.8,822.0 176.2,822.0 188.6,822.0 201.1,822.0 213.5,821.7 225.9,821.0 238.3,819.9 250.7,817.5 263.1,813.2 275.5,807.7 287.9,801.7 300.3,795.9 312.7,790.2 325.1,784.0 337.6,777.5 350.0,771.2 362.4,765.3 374.8,759.5 387.2,753.4 399.6,747.4 412.0,742.0 424.4,737.7 436.8,734.8 449.2,733.3 461.7,735.5 474.1,737.8 486.5,737.8 498.9,737.8 511.3,737.8 523.7,737.8 536.1,737.8 548.5,737.8 560.9,737.8 573.4,737.8 585.8,737.8" fill="none" stroke="#808080" stroke-width="2.8" stroke-linejoin="round" marker-start="url(#m36)" marker-mid="url(#m36)" marker-end="url(#m36)"/>
<polyline points="139.0,822.0 151.4,822.0 163.8,822.0 176.2,822.0 188.6,822.0 201.1,822.0 213.5,821.7 225.9,821.0 238.3,820.1 250.7,817.8 263.1,813.6 275.5,808.2 287.9,802.3 300.3,796.7 312.7,791.1 325.1,785.0 337.6,778.7 350.0,772.5 362.4,766.8 374.8,761.3 387.2,755.8 399.6,750.4 412.0,745.4 424.4,741.1 436.8,737.8 449.2,735.5 461.7,737.0 474.1,739.2 486.5,739.2 498.9,739.2 511.3,739.2 523.7,739.2 536.1,739.2 548.5,739.2 560.9,739.2 573.4,739.2 585.8,739.2" fill="none" stroke="#ff0000" stroke-width="2.8" stroke-linejoin="round" marker-start="url(#m37)" marker-mid="url(#m37)" marker-end="url(#m37)"/>
<polyline points="139.0,822.0 151.4,822.0 163.8,822.0 176.2,822.0 188.6,822.0 201.1,822.0 213.5,821.8 225.9,821.1 238.3,820.2 250.7,818.0 263.1,813.9 275.5,808.6 287.9,802.9 300.3,797.4 312.7,791.9 325.1,786.0 337.6,779.8 350.0,773.8 362.4,768.3 374.8,763.1 387.2,757.8 399.6,752.8 412.0,748.1 424.4,744.0 436.8,740.7 449.2,738.5 461.7,738.5 474.1,740.0 486.5,740.1 498.9,740.2 511.3,740.2 523.7,740.3 536.1,740.3 548.5,740.3 560.9,740.4 573.4,740.4 585.8,740.4" fill="none" stroke="#00ff00" stroke-width="2.8" stroke-linejoin="round" marker-start="url(#m38)" marker-mid="url(#m38)" marker-end="url(#m38)"/>
<polyline points="139.0,822.0 151.4,822.0 163.8,822.0 176.2,822.0 188.6,822.0 201.1,822.0 213.5,821.8 225.9,821.2 238.3,820.4 250.7,818.3 263.1,814.3 275.5,809.1 287.9,803.5 300.3,798.1 312.7,792.6 325.1,786.4 337.6,780.1 350.0,774.3 362.4,769.8 374.8,766.2 387.2,762.7 399.6,759.6 412.0,756.9 424.4,754.8 436.8,753.4 449.2,752.7 461.7,754.9 474.1,756.4 486.5,756.6 498.9,756.7 511.3,756.9 523.7,757.0 536.1,757.0 548.5,757.1 560.9,757.1 573.4,757.1 585.8,757.1" fill="none" stroke="#0000ff" stroke-width="2.8" stroke-linejoin="round" marker-start="url(#m39)" marker-mid="url(#m39)" marker-end="url(#m39)"/>
<polyline points="139.0,822.0 151.4,822.0 163.8,822.0 176.2,822.0 188.6,822.0 201.1,822.0 213.5,821.8 225.9,821.3 238.3,820.5 250.7,818.5 263.1,814.6 275.5,809.6 287.9,804.1 300.3,798.9 312.7,793.6 325.1,787.8 337.6,781.9 350.0,776.2 362.4,771.3 374.8,767.1 387.2,763.1 399.6,759.6 412.0,756.4 424.4,753.0 436.8,751.2 449.2,751.9 461.7,752.7 474.1,752.9 486.5,753.2 498.9,753.4 511.3,753.6 523.7,753.8 536.1,753.9 548.5,754.0 560.9,754.1 573.4,754.1 585.8,754.2" fill="none" stroke="#ff00ff" stroke-width="2.8" stroke-linejoin="round" marker-start="url(#m40)" marker-mid="url(#m40)" marker-end="url(#m40)"/>
<polyline points="761.0,76.5 773.4,76.5 785.8,76.5 798.2,76.5 810.6,76.5 823.0,76.5 835.5,76.5 847.9,76.5 860.3,76.5 872.7,76.5 885.1,76.5 897.5,76.5 909.9,76.5 922.3,76.5 934.7,76.5 947.1,76.5 959.6,76.5 972.0,76.5 984.4,76.5 996.8,76.5 1009.2,76.5 1021.6,76.5 1034.0,76.5 1046.4,76.5 1058.8,76.5 1071.2,76.5 1083.7,76.5 1096.1,76.5 1108.5,76.5 1120.9,76.5 1133.3,76.5 1145.7,76.5 1158.1,76.5 1170.5,76.5 1182.9,76.5 1195.3,76.5 1207.8,76.5" fill="none" stroke="#ff0000" stroke-width="2.8" stroke-linejoin="round" marker-start="url(#m1)" marker-mid="url(#m1)" marker-end="url(#m1)"/>
<polyline points="761.0,225.6 773.4,374.7 785.8,297.2 798.2,285.2 810.6,270.3 823.0,259.9 835.5,248.0 847.9,236.8 860.3,227.8 872.7,219.6 885.1,212.2 897.5,206.2 909.9,200.3 922.3,194.3 934.7,188.3 947.1,184.2 959.6,179.8 972.0,176.4 984.4,172.3 996.8,168.9 1009.2,165.2 1021.6,162.2 1034.0,158.5 1046.4,155.5 1058.8,151.0 1071.2,146.9 1083.7,140.6 1096.1,133.2 1108.5,124.2 1120.9,113.0 1133.3,103.6 1145.7,93.6 1158.1,83.2 1170.5,77.6 1182.9,76.5 1195.3,76.5 1207.8,76.5" fill="none" stroke="#00ff00" stroke-width="2.8" stroke-linejoin="round" marker-start="url(#m2)" marker-mid="url(#m2)" marker-end="url(#m2)"/>
<polyline points="761.0,605.8 773.4,508.1 785.8,646.1 798.2,612.5 810.6,567.0 823.0,536.1 835.5,506.9 847.9,483.0 860.3,461.2 872.7,442.0 885.1,423.9 897.5,409.7 909.9,395.6 922.3,383.6 934.7,373.2 947.1,363.5 959.6,353.1 972.0,343.4 984.4,333.7 996.8,324.8 1009.2,316.0 1021.6,309.8 1034.0,303.9 1046.4,299.4 1058.8,295.7 1071.2,293.1 1083.7,291.2 1096.1,290.1 1108.5,291.6 1120.9,296.4 1133.3,300.9 1145.7,306.1 1158.1,312.1 1170.5,317.3 1182.9,320.3 1195.3,321.0 1207.8,321.0" fill="none" stroke="#0000ff" stroke-width="2.8" stroke-linejoin="round" marker-start="url(#m3)" marker-mid="url(#m3)" marker-end="url(#m3)"/>
<polyline points="761.0,644.6 773.4,631.2 785.8,696.8 798.2,674.4 810.6,632.6 823.0,605.8 835.5,579.0 847.9,555.1 860.3,533.5 872.7,514.1 885.1,497.7 897.5,481.3 909.9,466.4 922.3,452.2 934.7,440.3 947.1,428.9 959.6,417.9 972.0,407.3 984.4,396.9 996.8,387.1 1009.2,378.1 1021.6,370.3 1034.0,362.4 1046.4,355.5 1058.8,349.6 1071.2,343.6 1083.7,337.7 1096.1,331.8 1108.5,325.9 1120.9,321.9 1133.3,321.0 1145.7,321.0 1158.1,321.0 1170.5,321.0 1182.9,321.0 1195.3,321.0 1207.8,321.0" fill="none" stroke="#ff00ff" stroke-width="2.8" stroke-linejoin="round" marker-start="url(#m4)" marker-mid="url(#m4)" marker-end="url(#m4)"/>
<polyline points="761.0,661.7 773.4,820.5 785.8,819.0 798.2,772.1 810.6,736.3 823.0,705.7 835.5,675.9 847.9,647.6 860.3,623.0 872.7,599.1 885.1,577.5 897.5,554.5 909.9,536.1 922.3,523.8 934.7,510.3 947.1,496.2 959.6,482.8 972.0,470.7 984.4,459.0 996.8,447.2 1009.2,436.4 1021.6,426.5 1034.0,416.6 1046.4,407.7 1058.8,398.9 1071.2,390.0 1083.7,380.1 1096.1,371.3 1108.5,362.4 1120.9,352.5 1133.3,342.6 1145.7,332.8 1158.1,323.6 1170.5,322.1 1182.9,322.1 1195.3,322.1 1207.8,322.1" fill="none" stroke="#00ffff" stroke-width="2.8" stroke-linejoin="round" marker-start="url(#m5)" marker-mid="url(#m5)" marker-end="url(#m5)"/>
<polyline points="761.0,693.8 773.4,820.5 785.8,819.8 798.2,785.5 810.6,759.0 823.0,733.3 835.5,709.1 847.9,685.9 860.3,663.2 872.7,641.1 885.1,622.2 897.5,605.3 909.9,585.7 922.3,567.1 934.7,550.3 947.1,535.6 959.6,522.2 972.0,509.8 984.4,498.1 996.8,486.8 1009.2,475.7 1021.6,464.5 1034.0,453.5 1046.4,443.1 1058.8,432.8 1071.2,422.4 1083.7,411.7 1096.1,400.3 1108.5,387.3 1120.9,373.0 1133.3,358.6 1145.7,345.5 1158.1,335.0 1170.5,326.3 1182.9,324.2 1195.3,324.0 1207.8,324.0" fill="none" stroke="#ffff00" stroke-width="2.8" stroke-linejoin="round" marker-start="url(#m6)" marker-mid="url(#m6)" marker-end="url(#m6)"/>
<polyline points="761.0,773.9 773.4,819.8 785.8,817.5 798.2,802.6 810.6,787.6 823.0,772.1 835.5,755.1 847.9,737.3 860.3,719.1 872.7,700.2 885.1,680.4 897.5,660.7 909.9,642.2 922.3,625.9 934.7,611.9 947.1,599.2 959.6,587.4 972.0,576.1 984.4,564.8 996.8,553.3 1009.2,541.7 1021.6,530.6 1034.0,520.5 1046.4,511.9 1058.8,503.9 1071.2,495.8 1083.7,488.2 1096.1,481.9 1108.5,477.7 1120.9,476.1 1133.3,479.1 1145.7,484.7 1158.1,486.3 1170.5,487.3 1182.9,487.3 1195.3,487.3 1207.8,487.3" fill="none" stroke="#000000" stroke-width="2.8" stroke-linejoin="round" marker-start="url(#m7)" marker-mid="url(#m7)" marker-end="url(#m7)"/>
<polyline points="761.0,785.5 773.4,819.8 785.8,819.8 798.2,813.1 810.6,800.7 823.0,784.7 835.5,767.3 847.9,748.1 860.3,729.6 872.7,711.7 885.1,693.7 897.5,676.3 909.9,660.2 922.3,646.1 934.7,634.1 947.1,623.6 959.6,613.8 972.0,604.1 984.4,593.9 996.8,582.9 1009.2,571.5 1021.6,560.2 1034.0,549.4 1046.4,539.5 1058.8,530.0 1071.2,520.4 1083.7,511.3 1096.1,503.0 1108.5,496.1 1120.9,491.1 1133.3,488.0 1145.7,486.4 1158.1,488.0 1170.5,488.0 1182.9,488.0 1195.3,488.0 1207.8,488.0" fill="none" stroke="#ff4d00" stroke-width="2.8" stroke-linejoin="round" marker-start="url(#m8)" marker-mid="url(#m8)" marker-end="url(#m8)"/>
<polyline points="761.0,786.7 773.4,820.5 785.8,820.5 798.2,816.0 810.6,805.5 823.0,790.7 835.5,773.9 847.9,754.9 860.3,736.3 872.7,718.4 885.1,700.3 897.5,682.8 909.9,666.7 922.3,652.8 934.7,641.2 947.1,631.1 959.6,621.8 972.0,612.6 984.4,602.8 996.8,592.3 1009.2,581.4 1021.6,570.6 1034.0,560.0 1046.4,549.9 1058.8,539.9 1071.2,529.7 1083.7,519.7 1096.1,510.5 1108.5,502.6 1120.9,496.6 1133.3,492.7 1145.7,491.1 1158.1,491.0 1170.5,491.0 1182.9,491.0 1195.3,491.0 1207.8,491.0" fill="none" stroke="#808080" stroke-width="2.8" stroke-linejoin="round" marker-start="url(#m9)" marker-mid="url(#m9)" marker-end="url(#m9)"/>
<polyline points="761.0,789.2 773.4,821.3 785.8,821.3 798.2,818.3 810.6,807.7 823.0,792.2 835.5,776.4 847.9,759.3 860.3,743.0 872.7,727.7 885.1,712.7 897.5,698.2 909.9,684.6 922.3,672.2 934.7,661.1 947.1,650.9 959.6,641.4 972.0,631.9 984.4,622.2 996.8,612.3 1009.2,602.5 1021.6,592.7 1034.0,582.7 1046.4,572.3 1058.8,560.9 1071.2,548.4 1083.7,535.8 1096.1,523.6 1108.5,512.6 1120.9,503.7 1133.3,497.3 1145.7,491.0 1158.1,492.5 1170.5,492.5 1182.9,492.5 1195.3,492.5 1207.8,492.5" fill="none" stroke="#ff0000" stroke-width="2.8" stroke-linejoin="round" marker-start="url(#m10)" marker-mid="url(#m10)" marker-end="url(#m10)"/>
<polyline points="761.0,807.6 773.4,822.0 785.8,822.0 798.2,819.8 810.6,815.3 823.0,808.6 835.5,798.7 847.9,785.7 860.3,772.1 872.7,758.0 885.1,743.0 897.5,727.5 909.9,712.4 922.3,698.2 934.7,685.2 947.1,672.6 959.6,660.5 972.0,648.7 984.4,637.1 996.8,625.8 1009.2,614.8 1021.6,604.1 1034.0,593.4 1046.4,582.7 1058.8,571.8 1071.2,560.9 1083.7,550.1 1096.1,539.3 1108.5,528.8 1120.9,518.6 1133.3,508.9 1145.7,500.7 1158.1,494.7 1170.5,493.2 1182.9,493.2 1195.3,493.2 1207.8,493.2" fill="none" stroke="#00ff00" stroke-width="2.8" stroke-linejoin="round" marker-start="url(#m11)" marker-mid="url(#m11)" marker-end="url(#m11)"/>
<polyline points="761.0,810.1 773.4,822.0 785.8,822.0 798.2,820.5 810.6,815.3 823.0,807.1 835.5,797.7 847.9,786.7 860.3,775.0 872.7,763.1 885.1,750.6 897.5,737.7 909.9,724.7 922.3,711.7 934.7,698.4 947.1,684.8 959.6,671.3 972.0,658.2 984.4,646.1 996.8,634.8 1009.2,624.2 1021.6,614.0 1034.0,604.1 1046.4,594.6 1058.8,585.7 1071.2,577.5 1083.7,569.5 1096.1,561.4 1108.5,552.7 1120.9,543.0 1133.3,531.3 1145.7,520.2 1158.1,509.9 1170.5,502.9 1182.9,498.9 1195.3,497.3 1207.8,497.0" fill="none" stroke="#0000ff" stroke-width="2.8" stroke-linejoin="round" marker-start="url(#m12)" marker-mid="url(#m12)" marker-end="url(#m12)"/>
<polyline points="761.0,810.8 773.4,822.0 785.8,822.0 798.2,821.3 810.6,817.4 823.0,810.8 835.5,803.1 847.9,793.6 860.3,783.2 872.7,771.7 885.1,758.7 897.5,745.1 909.9,731.4 922.3,718.4 934.7,706.0 947.1,693.7 959.6,681.7 972.0,670.0 984.4,658.7 996.8,647.5 1009.2,636.1 1021.6,625.3 1034.0,615.7 1046.4,608.0 1058.8,601.4 1071.2,594.9 1083.7,589.0 1096.1,584.2 1108.5,581.0 1120.9,579.8 1133.3,584.5 1145.7,593.4 1158.1,601.1 1170.5,602.8 1182.9,602.8 1195.3,602.8 1207.8,602.8" fill="none" stroke="#ff00ff" stroke-width="2.8" stroke-linejoin="round" marker-start="url(#m13)" marker-mid="url(#m13)" marker-end="url(#m13)"/>
<polyline points="761.0,813.1 773.4,822.0 785.8,822.0 798.2,822.0 810.6,819.0 823.0,813.1 835.5,806.2 847.9,797.4 860.3,787.7 872.7,776.7 885.1,764.1 897.5,750.7 909.9,737.2 922.3,724.3 934.7,711.7 947.1,698.8 959.6,686.3 972.0,674.7 984.4,664.7 996.8,656.1 1009.2,648.3 1021.6,641.1 1034.0,634.4 1046.4,628.2 1058.8,621.6 1071.2,614.6 1083.7,607.9 1096.1,602.3 1108.5,598.3 1120.9,596.9 1133.3,596.9 1145.7,596.9 1158.1,600.6 1170.5,604.7 1182.9,604.7 1195.3,604.7 1207.8,604.7" fill="none" stroke="#00ffff" stroke-width="2.8" stroke-linejoin="round" marker-start="url(#m14)" marker-mid="url(#m14)" marker-end="url(#m14)"/>
<polyline points="761.0,814.5 773.4,822.0 785.8,822.0 798.2,822.0 810.6,820.0 823.0,816.0 835.5,811.5 847.9,805.8 860.3,798.9 872.7,790.2 885.1,779.5 897.5,767.5 909.9,755.0 922.3,743.0 934.7,730.8 947.1,718.0 959.6,705.3 972.0,693.3 984.4,682.6 996.8,673.3 1009.2,664.8 1021.6,656.8 1034.0,649.1 1046.4,641.6 1058.8,633.3 1071.2,624.4 1083.7,616.1 1096.1,609.8 1108.5,606.6 1120.9,605.6 1133.3,605.1 1145.7,604.7 1158.1,604.4 1170.5,604.3 1182.9,604.4 1195.3,604.6 1207.8,605.1" fill="none" stroke="#ffff00" stroke-width="2.8" stroke-linejoin="round" marker-start="url(#m15)" marker-mid="url(#m15)" marker-end="url(#m15)"/>
<polyline points="761.0,816.0 773.4,822.0 785.8,822.0 798.2,822.0 810.6,820.3 823.0,816.8 835.5,812.6 847.9,807.0 860.3,800.4 872.7,792.0 885.1,781.6 897.5,769.9 909.9,757.8 922.3,746.0 934.7,734.1 947.1,721.6 959.6,709.1 972.0,697.1 984.4,686.3 996.8,676.6 1009.2,667.6 1021.6,659.1 1034.0,650.9 1046.4,643.1 1058.8,634.8 1071.2,626.0 1083.7,617.9 1096.1,611.6 1108.5,608.0 1120.9,606.7 1133.3,605.8 1145.7,605.0 1158.1,604.3 1170.5,603.2 1182.9,602.5 1195.3,602.5 1207.8,602.5" fill="none" stroke="#000000" stroke-width="2.8" stroke-linejoin="round" marker-start="url(#m16)" marker-mid="url(#m16)" marker-end="url(#m16)"/>
<polyline points="761.0,817.5 773.4,822.0 785.8,822.0 798.2,822.0 810.6,820.2 823.0,816.8 835.5,812.9 847.9,807.9 860.3,801.9 872.7,794.0 885.1,783.9 897.5,772.5 909.9,760.6 922.3,748.9 934.7,737.2 947.1,724.8 959.6,712.3 972.0,700.3 984.4,689.3 996.8,679.4 1009.2,670.0 1021.6,661.1 1034.0,652.6 1046.4,644.6 1058.8,636.2 1071.2,627.4 1083.7,619.4 1096.1,613.0 1108.5,609.5 1120.9,608.2 1133.3,607.3 1145.7,606.5 1158.1,605.8 1170.5,605.3 1182.9,605.1 1195.3,605.1 1207.8,605.1" fill="none" stroke="#ff4d00" stroke-width="2.8" stroke-linejoin="round" marker-start="url(#m17)" marker-mid="url(#m17)" marker-end="url(#m17)"/>
<polyline points="761.0,818.3 773.4,822.0 785.8,822.0 798.2,822.0 810.6,820.5 823.0,817.5 835.5,813.8 847.9,808.7 860.3,802.6 872.7,794.9 885.1,785.4 897.5,774.5 909.9,763.2 922.3,751.9 934.7,740.4 947.1,728.0 959.6,715.5 972.0,703.4 984.4,692.3 996.8,682.1 1009.2,672.3 1021.6,663.1 1034.0,654.3 1046.4,646.1 1058.8,637.6 1071.2,628.8 1083.7,620.8 1096.1,614.5 1108.5,611.0 1120.9,609.7 1133.3,608.8 1145.7,607.5 1158.1,606.6 1170.5,606.0 1182.9,605.8 1195.3,605.8 1207.8,605.8" fill="none" stroke="#808080" stroke-width="2.8" stroke-linejoin="round" marker-start="url(#m18)" marker-mid="url(#m18)" marker-end="url(#m18)"/>
<polyline points="761.0,819.8 773.4,822.0 785.8,822.0 798.2,822.0 810.6,820.5 823.0,817.5 835.5,813.9 847.9,809.1 860.3,803.4 872.7,796.0 885.1,786.7 897.5,776.4 909.9,765.7 922.3,755.7 934.7,745.9 947.1,736.0 959.6,726.2 972.0,716.7 984.4,707.9 996.8,700.0 1009.2,692.6 1021.6,685.6 1034.0,678.3 1046.4,670.7 1058.8,662.3 1071.2,653.3 1083.7,644.1 1096.1,635.0 1108.5,626.2 1120.9,618.1 1133.3,611.0 1145.7,609.5 1158.1,608.4 1170.5,608.4 1182.9,608.4 1195.3,608.4 1207.8,608.4" fill="none" stroke="#ff0000" stroke-width="2.8" stroke-linejoin="round" marker-start="url(#m19)" marker-mid="url(#m19)" marker-end="url(#m19)"/>
<polyline points="761.0,819.8 773.4,822.0 785.8,822.0 798.2,822.0 810.6,820.8 823.0,818.3 835.5,814.8 847.9,809.9 860.3,804.1 872.7,796.7 885.1,787.2 897.5,776.7 909.9,766.1 922.3,756.4 934.7,747.5 947.1,738.9 959.6,730.4 972.0,722.1 984.4,713.9 996.8,705.9 1009.2,698.1 1021.6,690.3 1034.0,682.5 1046.4,674.4 1058.8,665.8 1071.2,656.7 1083.7,647.5 1096.1,638.5 1108.5,629.8 1120.9,621.8 1133.3,614.8 1145.7,612.5 1158.1,609.9 1170.5,609.6 1182.9,609.4 1195.3,609.3 1207.8,609.3" fill="none" stroke="#00ff00" stroke-width="2.8" stroke-linejoin="round" marker-start="url(#m20)" marker-mid="url(#m20)" marker-end="url(#m20)"/>
<polyline points="761.0,819.8 773.4,822.0 785.8,822.0 798.2,822.0 810.6,821.0 823.0,819.0 835.5,816.2 847.9,812.0 860.3,807.1 872.7,800.5 885.1,792.0 897.5,782.6 909.9,773.4 922.3,765.3 934.7,758.8 947.1,753.1 959.6,747.5 972.0,741.6 984.4,734.8 996.8,726.2 1009.2,716.2 1021.6,705.6 1034.0,695.4 1046.4,686.3 1058.8,678.8 1071.2,672.2 1083.7,665.8 1096.1,659.0 1108.5,651.3 1120.9,641.3 1133.3,631.2 1145.7,622.2 1158.1,615.5 1170.5,612.5 1182.9,610.3 1195.3,610.0 1207.8,609.9" fill="none" stroke="#0000ff" stroke-width="2.8" stroke-linejoin="round" marker-start="url(#m21)" marker-mid="url(#m21)" marker-end="url(#m21)"/>
<polyline points="761.0,819.8 773.4,822.0 785.8,822.0 798.2,822.0 810.6,821.3 823.0,819.8 835.5,817.2 847.9,813.3 860.3,808.6 872.7,802.2 885.1,793.9 897.5,784.6 909.9,775.5 922.3,767.6 934.7,761.2 947.1,755.7 959.6,750.3 972.0,744.5 984.4,737.8 996.8,729.2 1009.2,719.0 1021.6,708.2 1034.0,697.7 1046.4,688.6 1058.8,681.0 1071.2,674.4 1083.7,668.0 1096.1,661.3 1108.5,653.5 1120.9,643.6 1133.3,633.4 1145.7,624.2 1158.1,617.0 1170.5,613.3 1182.9,611.0 1195.3,610.7 1207.8,610.6" fill="none" stroke="#ff00ff" stroke-width="2.8" stroke-linejoin="round" marker-start="url(#m22)" marker-mid="url(#m22)" marker-end="url(#m22)"/>
<polyline points="761.0,819.8 773.4,822.0 785.8,822.0 798.2,822.0 810.6,821.2 823.0,819.8 835.5,818.1 847.9,815.9 860.3,813.1 872.7,808.4 885.1,801.4 897.5,793.3 909.9,784.9 922.3,777.3 934.7,770.6 947.1,764.2 959.6,757.8 972.0,751.1 984.4,743.7 996.8,735.2 1009.2,725.5 1021.6,715.5 1034.0,705.9 1046.4,697.5 1058.8,690.5 1071.2,684.4 1083.7,678.6 1096.1,672.5 1108.5,665.4 1120.9,656.8 1133.3,647.6 1145.7,637.8 1158.1,628.2 1170.5,621.1 1182.9,616.6 1195.3,614.0 1207.8,613.3" fill="none" stroke="#00ffff" stroke-width="2.8" stroke-linejoin="round" marker-start="url(#m23)" marker-mid="url(#m23)" marker-end="url(#m23)"/>
<polyline points="761.0,819.8 773.4,822.0 785.8,822.0 798.2,822.0 810.6,821.5 823.0,820.5 835.5,819.2 847.9,817.2 860.3,814.5 872.7,810.1 885.1,803.4 897.5,795.4 909.9,787.1 922.3,779.5 934.7,772.9 947.1,766.5 959.6,760.1 972.0,753.4 984.4,746.0 996.8,737.3 1009.2,727.4 1021.6,717.3 1034.0,707.5 1046.4,699.0 1058.8,692.0 1071.2,685.9 1083.7,680.1 1096.1,673.9 1108.5,666.9 1120.9,658.3 1133.3,649.0 1145.7,639.3 1158.1,629.5 1170.5,622.4 1182.9,618.0 1195.3,615.5 1207.8,614.8" fill="none" stroke="#ffff00" stroke-width="2.8" stroke-linejoin="round" marker-start="url(#m24)" marker-mid="url(#m24)" marker-end="url(#m24)"/>
<polyline points="761.0,822.0 773.4,822.0 785.8,822.0 798.2,822.0 810.6,821.5 823.0,820.5 835.5,819.3 847.9,817.6 860.3,815.3 872.7,811.1 885.1,804.5 897.5,796.6 909.9,788.4 922.3,781.0 934.7,774.5 947.1,768.4 959.6,762.1 972.0,755.5 984.4,748.2 996.8,739.4 1009.2,729.3 1021.6,718.8 1034.0,708.9 1046.4,700.5 1058.8,693.0 1071.2,685.5 1083.7,678.9 1096.1,673.7 1108.5,670.7 1120.9,669.1 1133.3,668.4 1145.7,670.6 1158.1,673.6 1170.5,675.2 1182.9,675.9 1195.3,675.9 1207.8,675.9" fill="none" stroke="#000000" stroke-width="2.8" stroke-linejoin="round" marker-start="url(#m25)" marker-mid="url(#m25)" marker-end="url(#m25)"/>
<polyline points="761.0,822.0 773.4,822.0 785.8,822.0 798.2,822.0 810.6,821.5 823.0,820.5 835.5,819.4 847.9,818.0 860.3,816.0 872.7,812.2 885.1,806.0 897.5,798.4 909.9,790.5 922.3,783.2 934.7,776.9 947.1,770.7 959.6,764.5 972.0,757.8 984.4,750.4 996.8,741.4 1009.2,730.9 1021.6,720.0 1034.0,709.9 1046.4,702.0 1058.8,695.4 1071.2,689.1 1083.7,683.4 1096.1,678.5 1108.5,674.9 1120.9,672.9 1133.3,672.2 1145.7,673.4 1158.1,675.1 1170.5,676.1 1182.9,676.6 1195.3,676.6 1207.8,676.6" fill="none" stroke="#ff4d00" stroke-width="2.8" stroke-linejoin="round" marker-start="url(#m26)" marker-mid="url(#m26)" marker-end="url(#m26)"/>
<polyline points="761.0,822.0 773.4,822.0 785.8,822.0 798.2,822.0 810.6,821.6 823.0,820.7 835.5,819.8 847.9,818.5 860.3,816.8 872.7,813.2 885.1,807.4 897.5,800.1 909.9,792.5 922.3,785.5 934.7,779.1 947.1,772.8 959.6,766.4 972.0,759.8 984.4,752.9 996.8,745.4 1009.2,737.5 1021.6,729.4 1034.0,721.4 1046.4,713.9 1058.8,706.4 1071.2,698.6 1083.7,691.2 1096.1,685.0 1108.5,680.4 1120.9,676.9 1133.3,675.1 1145.7,675.4 1158.1,675.9 1170.5,676.8 1182.9,677.4 1195.3,677.4 1207.8,677.4" fill="none" stroke="#808080" stroke-width="2.8" stroke-linejoin="round" marker-start="url(#m27)" marker-mid="url(#m27)" marker-end="url(#m27)"/>
<polyline points="761.0,822.0 773.4,822.0 785.8,822.0 798.2,822.0 810.6,821.6 823.0,820.9 835.5,820.1 847.9,819.0 860.3,817.5 872.7,814.3 885.1,808.7 897.5,801.8 909.9,794.5 922.3,787.7 934.7,781.5 947.1,775.2 959.6,768.7 972.0,762.1 984.4,755.3 996.8,748.0 1009.2,740.4 1021.6,732.6 1034.0,724.9 1046.4,717.6 1058.8,710.5 1071.2,703.2 1083.7,696.3 1096.1,690.0 1108.5,684.8 1120.9,680.1 1133.3,677.4 1145.7,676.8 1158.1,676.6 1170.5,677.7 1182.9,678.9 1195.3,679.0 1207.8,679.0" fill="none" stroke="#ff0000" stroke-width="2.8" stroke-linejoin="round" marker-start="url(#m28)" marker-mid="url(#m28)" marker-end="url(#m28)"/>
<polyline points="761.0,822.0 773.4,822.0 785.8,822.0 798.2,822.0 810.6,821.7 823.0,821.1 835.5,820.4 847.9,819.5 860.3,818.3 872.7,815.3 885.1,810.1 897.5,803.5 909.9,796.5 922.3,789.9 934.7,783.8 947.1,777.5 959.6,771.0 972.0,764.4 984.4,757.7 996.8,750.9 1009.2,743.8 1021.6,736.7 1034.0,729.7 1046.4,722.8 1058.8,716.1 1071.2,709.5 1083.7,703.0 1096.1,696.7 1108.5,690.8 1120.9,684.5 1133.3,680.4 1145.7,679.3 1158.1,678.9 1170.5,679.2 1182.9,679.6 1195.3,679.6 1207.8,679.6" fill="none" stroke="#00ff00" stroke-width="2.8" stroke-linejoin="round" marker-start="url(#m29)" marker-mid="url(#m29)" marker-end="url(#m29)"/>
<polyline points="761.0,822.0 773.4,822.0 785.8,822.0 798.2,822.0 810.6,821.7 823.0,821.3 835.5,820.7 847.9,820.0 860.3,819.0 872.7,816.4 885.1,811.6 897.5,805.5 909.9,798.7 922.3,792.2 934.7,785.5 947.1,778.2 959.6,770.5 972.0,763.1 984.4,756.4 996.8,750.5 1009.2,745.0 1021.6,739.8 1034.0,734.5 1046.4,728.8 1058.8,722.7 1071.2,716.3 1083.7,709.8 1096.1,703.2 1108.5,696.8 1120.9,689.5 1133.3,684.1 1145.7,681.5 1158.1,680.4 1170.5,680.4 1182.9,680.4 1195.3,680.4 1207.8,680.4" fill="none" stroke="#0000ff" stroke-width="2.8" stroke-linejoin="round" marker-start="url(#m30)" marker-mid="url(#m30)" marker-end="url(#m30)"/>
<polyline points="761.0,820.5 773.4,820.5 785.8,820.5 798.2,820.5 810.6,820.5 823.0,820.5 835.5,820.2 847.9,819.4 860.3,818.3 872.7,815.8 885.1,811.4 897.5,805.7 909.9,799.6 922.3,793.7 934.7,787.8 947.1,781.3 959.6,774.7 972.0,768.3 984.4,762.4 996.8,757.1 1009.2,752.2 1021.6,747.4 1034.0,742.7 1046.4,737.8 1058.8,732.4 1071.2,726.7 1083.7,721.0 1096.1,715.5 1108.5,710.5 1120.9,690.8 1133.3,686.3 1145.7,683.6 1158.1,681.8 1170.5,680.8 1182.9,680.4 1195.3,680.4 1207.8,680.4" fill="none" stroke="#ff00ff" stroke-width="2.8" stroke-linejoin="round" marker-start="url(#m31)" marker-mid="url(#m31)" marker-end="url(#m31)"/>
<polyline points="761.0,820.9 773.4,820.9 785.8,820.9 798.2,820.9 810.6,820.9 823.0,820.9 835.5,820.6 847.9,819.8 860.3,818.6 872.7,816.2 885.1,811.8 897.5,806.1 909.9,799.9 922.3,794.0 934.7,788.1 947.1,781.7 959.6,775.1 972.0,768.6 984.4,762.7 996.8,757.5 1009.2,752.5 1021.6,747.8 1034.0,743.0 1046.4,738.1 1058.8,732.8 1071.2,727.1 1083.7,721.4 1096.1,715.9 1108.5,710.9 1120.9,691.5 1133.3,687.8 1145.7,684.8 1158.1,682.6 1170.5,681.1 1182.9,680.4 1195.3,680.4 1207.8,680.4" fill="none" stroke="#00ffff" stroke-width="2.8" stroke-linejoin="round" marker-start="url(#m32)" marker-mid="url(#m32)" marker-end="url(#m32)"/>
<polyline points="761.0,821.3 773.4,821.3 785.8,821.3 798.2,821.3 810.6,821.3 823.0,821.3 835.5,820.9 847.9,820.1 860.3,819.0 872.7,816.6 885.1,812.1 897.5,806.5 909.9,800.3 922.3,794.4 934.7,788.5 947.1,782.1 959.6,775.4 972.0,769.0 984.4,763.1 996.8,757.8 1009.2,752.9 1021.6,748.2 1034.0,743.4 1046.4,738.5 1058.8,733.2 1071.2,727.5 1083.7,721.7 1096.1,716.2 1108.5,711.3 1120.9,692.3 1133.3,689.3 1145.7,686.1 1158.1,683.3 1170.5,681.3 1182.9,680.4 1195.3,680.4 1207.8,680.4" fill="none" stroke="#ffff00" stroke-width="2.8" stroke-linejoin="round" marker-start="url(#m33)" marker-mid="url(#m33)" marker-end="url(#m33)"/>
<polyline points="761.0,821.6 773.4,821.6 785.8,821.6 798.2,821.6 810.6,821.6 823.0,821.6 835.5,821.3 847.9,820.5 860.3,819.4 872.7,816.9 885.1,812.5 897.5,806.8 909.9,800.7 922.3,794.8 934.7,788.9 947.1,782.4 959.6,775.8 972.0,769.4 984.4,763.5 996.8,758.2 1009.2,753.3 1021.6,748.5 1034.0,743.8 1046.4,738.9 1058.8,733.5 1071.2,727.8 1083.7,722.1 1096.1,716.6 1108.5,711.7 1120.9,693.8 1133.3,690.9 1145.7,687.8 1158.1,684.8 1170.5,681.8 1182.9,680.4 1195.3,680.4 1207.8,680.4" fill="none" stroke="#000000" stroke-width="2.8" stroke-linejoin="round" marker-start="url(#m34)" marker-mid="url(#m34)" marker-end="url(#m34)"/>
<polyline points="761.0,822.0 773.4,822.0 785.8,822.0 798.2,822.0 810.6,822.0 823.0,822.0 835.5,821.7 847.9,820.9 860.3,819.8 872.7,817.3 885.1,812.9 897.5,807.2 909.9,801.1 922.3,795.2 934.7,789.3 947.1,782.8 959.6,776.2 972.0,769.8 984.4,763.9 996.8,758.6 1009.2,753.7 1021.6,748.9 1034.0,744.2 1046.4,739.2 1058.8,733.9 1071.2,728.2 1083.7,722.5 1096.1,717.0 1108.5,712.0 1120.9,707.9 1133.3,705.0 1145.7,705.0 1158.1,705.0 1170.5,713.9 1182.9,722.5 1195.3,727.3 1207.8,727.3" fill="none" stroke="#ff4d00" stroke-width="2.8" stroke-linejoin="round" marker-start="url(#m35)" marker-mid="url(#m35)" marker-end="url(#m35)"/>
<polyline points="761.0,822.0 773.4,822.0 785.8,822.0 798.2,822.0 810.6,822.0 823.0,822.0 835.5,821.7 847.9,821.0 860.3,819.9 872.7,817.5 885.1,813.2 897.5,807.7 909.9,801.7 922.3,795.9 934.7,790.1 947.1,783.8 959.6,777.3 972.0,771.0 984.4,765.3 996.8,760.4 1009.2,755.8 1021.6,751.4 1034.0,746.9 1046.4,742.2 1058.8,736.5 1071.2,729.8 1083.7,722.9 1096.1,716.9 1108.5,712.6 1120.9,710.9 1133.3,710.9 1145.7,714.6 1158.1,720.4 1170.5,725.1 1182.9,726.6 1195.3,727.1 1207.8,727.3" fill="none" stroke="#808080" stroke-width="2.8" stroke-linejoin="round" marker-start="url(#m36)" marker-mid="url(#m36)" marker-end="url(#m36)"/>
<polyline points="761.0,822.0 773.4,822.0 785.8,822.0 798.2,822.0 810.6,822.0 823.0,822.0 835.5,821.7 847.9,821.0 860.3,820.1 872.7,817.8 885.1,813.6 897.5,808.2 909.9,802.3 922.3,796.7 934.7,791.0 947.1,784.8 959.6,778.5 972.0,772.4 984.4,766.8 996.8,762.0 1009.2,757.6 1021.6,753.3 1034.0,749.0 1046.4,744.5 1058.8,739.0 1071.2,732.6 1083.7,726.1 1096.1,720.2 1108.5,715.9 1120.9,713.9 1133.3,713.5 1145.7,716.9 1158.1,722.4 1170.5,726.6 1182.9,727.3 1195.3,727.3 1207.8,726.9" fill="none" stroke="#ff0000" stroke-width="2.8" stroke-linejoin="round" marker-start="url(#m37)" marker-mid="url(#m37)" marker-end="url(#m37)"/>
<polyline points="761.0,822.0 773.4,822.0 785.8,822.0 798.2,822.0 810.6,822.0 823.0,822.0 835.5,821.8 847.9,821.1 860.3,820.2 872.7,818.0 885.1,813.9 897.5,808.6 909.9,802.9 922.3,797.4 934.7,791.9 947.1,785.9 959.6,779.7 972.0,773.8 984.4,768.3 996.8,763.5 1009.2,759.1 1021.6,754.9 1034.0,750.6 1046.4,746.0 1058.8,740.5 1071.2,734.3 1083.7,728.3 1096.1,723.2 1108.5,719.9 1120.9,717.8 1133.3,716.9 1145.7,718.4 1158.1,722.7 1170.5,726.6 1182.9,727.3 1195.3,727.3 1207.8,727.3" fill="none" stroke="#00ff00" stroke-width="2.8" stroke-linejoin="round" marker-start="url(#m38)" marker-mid="url(#m38)" marker-end="url(#m38)"/>
<polyline points="761.0,822.0 773.4,822.0 785.8,822.0 798.2,822.0 810.6,822.0 823.0,822.0 835.5,821.8 847.9,821.2 860.3,820.4 872.7,818.3 885.1,814.3 897.5,809.1 909.9,803.5 922.3,798.1 934.7,792.8 947.1,786.9 959.6,780.9 972.0,775.1 984.4,769.8 996.8,765.2 1009.2,760.9 1021.6,756.7 1034.0,752.6 1046.4,748.2 1058.8,743.0 1071.2,737.1 1083.7,731.4 1096.1,726.8 1108.5,724.3 1120.9,723.3 1133.3,722.8 1145.7,722.8 1158.1,724.5 1170.5,726.6 1182.9,727.3 1195.3,727.9 1207.8,728.1" fill="none" stroke="#0000ff" stroke-width="2.8" stroke-linejoin="round" marker-start="url(#m39)" marker-mid="url(#m39)" marker-end="url(#m39)"/>
<polyline points="761.0,822.0 773.4,822.0 785.8,822.0 798.2,822.0 810.6,822.0 823.0,822.0 835.5,821.8 847.9,821.3 860.3,820.5 872.7,818.5 885.1,814.6 897.5,809.6 909.9,804.1 922.3,798.9 934.7,793.7 947.1,788.1 959.6,782.2 972.0,776.6 984.4,771.3 996.8,766.5 1009.2,762.0 1021.6,757.7 1034.0,753.3 1046.4,748.9 1058.8,743.9 1071.2,738.4 1083.7,733.1 1096.1,728.9 1108.5,726.6 1120.9,725.7 1133.3,725.1 1145.7,724.3 1158.1,724.6 1170.5,725.0 1182.9,725.1 1195.3,725.1 1207.8,725.1" fill="none" stroke="#ff00ff" stroke-width="2.8" stroke-linejoin="round" marker-start="url(#m40)" marker-mid="url(#m40)" marker-end="url(#m40)"/>
<polyline points="1383.3,76.5 1395.7,76.5 1408.1,76.5 1420.5,76.5 1432.9,76.5 1445.3,76.5 1457.8,76.5 1470.2,76.5 1482.6,76.5 1495.0,76.5 1507.4,76.5 1519.8,76.5 1532.2,76.5 1544.6,76.5 1557.0,76.5 1569.5,76.5 1581.9,76.5 1594.3,76.5 1606.7,76.5 1619.1,76.5 1631.5,76.5 1643.9,76.5 1656.3,76.5 1668.7,76.5 1681.1,76.5 1693.5,76.5 1706.0,76.5 1718.4,76.5 1730.8,76.5 1743.2,76.5 1755.6,76.5 1768.0,76.5 1780.4,76.5 1792.8,76.5 1805.2,76.5 1817.7,76.5 1830.1,76.5" fill="none" stroke="#ff0000" stroke-width="2.8" stroke-linejoin="round" marker-start="url(#m1)" marker-mid="url(#m1)" marker-end="url(#m1)"/>
<polyline points="1383.3,225.6 1395.7,374.7 1408.1,297.2 1420.5,284.6 1432.9,270.3 1445.3,258.4 1457.8,247.7 1470.2,236.6 1482.6,227.6 1495.0,218.9 1507.4,211.6 1519.8,204.9 1532.2,198.6 1544.6,192.1 1557.0,186.2 1569.5,180.3 1581.9,175.4 1594.3,169.4 1606.7,163.5 1619.1,157.2 1631.5,149.7 1643.9,140.8 1656.3,130.0 1668.7,117.7 1681.1,105.3 1693.5,92.5 1706.0,84.2 1718.4,78.3 1730.8,76.6 1743.2,76.5 1755.6,76.5 1768.0,76.5 1780.4,76.5 1792.8,76.5 1805.2,76.5 1817.7,76.5 1830.1,76.5" fill="none" stroke="#00ff00" stroke-width="2.8" stroke-linejoin="round" marker-start="url(#m2)" marker-mid="url(#m2)" marker-end="url(#m2)"/>
<polyline points="1383.3,605.8 1395.7,508.1 1408.1,646.1 1420.5,612.5 1432.9,567.0 1445.3,536.1 1457.8,506.9 1470.2,483.0 1482.6,461.2 1495.0,442.0 1507.4,423.9 1519.8,409.8 1532.2,396.3 1544.6,382.9 1557.0,370.0 1569.5,359.3 1581.9,350.5 1594.3,343.0 1606.7,337.4 1619.1,333.4 1631.5,330.7 1643.9,329.2 1656.3,330.0 1668.7,334.1 1681.1,339.1 1693.5,344.9 1706.0,350.1 1718.4,356.8 1730.8,362.0 1743.2,363.5 1755.6,363.5 1768.0,363.5 1780.4,363.5 1792.8,363.5 1805.2,363.5 1817.7,363.5 1830.1,363.5" fill="none" stroke="#0000ff" stroke-width="2.8" stroke-linejoin="round" marker-start="url(#m3)" marker-mid="url(#m3)" marker-end="url(#m3)"/>
<polyline points="1383.3,644.6 1395.7,631.2 1408.1,696.8 1420.5,674.4 1432.9,632.6 1445.3,605.8 1457.8,579.0 1470.2,555.1 1482.6,533.5 1495.0,514.1 1507.4,497.7 1519.8,481.3 1532.2,466.4 1544.6,452.2 1557.0,441.7 1569.5,428.9 1581.9,417.0 1594.3,406.2 1606.7,396.3 1619.1,387.4 1631.5,379.5 1643.9,371.6 1656.3,364.8 1668.7,360.8 1681.1,360.8 1693.5,360.8 1706.0,360.8 1718.4,360.8 1730.8,362.0 1743.2,362.8 1755.6,362.8 1768.0,362.8 1780.4,362.8 1792.8,362.8 1805.2,362.8 1817.7,362.8 1830.1,362.8" fill="none" stroke="#ff00ff" stroke-width="2.8" stroke-linejoin="round" marker-start="url(#m4)" marker-mid="url(#m4)" marker-end="url(#m4)"/>
<polyline points="1383.3,661.7 1395.7,820.5 1408.1,819.0 1420.5,772.1 1432.9,736.3 1445.3,705.7 1457.8,675.9 1470.2,647.6 1482.6,623.0 1495.0,599.1 1507.4,577.5 1519.8,554.5 1532.2,536.1 1544.6,519.3 1557.0,505.5 1569.5,493.0 1581.9,481.2 1594.3,468.3 1606.7,456.5 1619.1,444.6 1631.5,432.8 1643.9,421.0 1656.3,409.1 1668.7,397.3 1681.1,385.5 1693.5,372.7 1706.0,362.8 1718.4,362.8 1730.8,362.8 1743.2,362.8 1755.6,362.8 1768.0,362.8 1780.4,362.8 1792.8,362.8 1805.2,362.8 1817.7,362.8 1830.1,362.8" fill="none" stroke="#00ffff" stroke-width="2.8" stroke-linejoin="round" marker-start="url(#m5)" marker-mid="url(#m5)" marker-end="url(#m5)"/>
<polyline points="1383.3,693.8 1395.7,820.5 1408.1,819.8 1420.5,785.5 1432.9,759.0 1445.3,733.3 1457.8,709.1 1470.2,685.9 1482.6,663.2 1495.0,641.1 1507.4,622.2 1519.8,605.3 1532.2,587.7 1544.6,570.5 1557.0,553.6 1569.5,537.4 1581.9,521.5 1594.3,505.3 1606.7,488.3 1619.1,471.5 1631.5,455.7 1643.9,439.9 1656.3,422.2 1668.7,404.4 1681.1,388.6 1693.5,374.8 1706.0,365.0 1718.4,363.0 1730.8,363.0 1743.2,363.0 1755.6,363.0 1768.0,363.0 1780.4,363.0 1792.8,363.0 1805.2,363.0 1817.7,363.0 1830.1,363.0" fill="none" stroke="#ffff00" stroke-width="2.8" stroke-linejoin="round" marker-start="url(#m6)" marker-mid="url(#m6)" marker-end="url(#m6)"/>
<polyline points="1383.3,773.9 1395.7,819.8 1408.1,817.5 1420.5,802.6 1432.9,787.6 1445.3,772.1 1457.8,755.1 1470.2,737.3 1482.6,719.1 1495.0,700.2 1507.4,680.4 1519.8,660.7 1532.2,642.2 1544.6,625.9 1557.0,611.7 1569.5,598.5 1581.9,586.3 1594.3,575.0 1606.7,564.8 1619.1,554.3 1631.5,543.5 1643.9,533.8 1656.3,526.8 1668.7,524.2 1681.1,524.9 1693.5,528.9 1706.0,536.0 1718.4,539.2 1730.8,539.2 1743.2,539.3 1755.6,539.4 1768.0,539.4 1780.4,539.4 1792.8,539.4 1805.2,539.4 1817.7,539.5 1830.1,539.5" fill="none" stroke="#000000" stroke-width="2.8" stroke-linejoin="round" marker-start="url(#m7)" marker-mid="url(#m7)" marker-end="url(#m7)"/>
<polyline points="1383.3,785.5 1395.7,819.8 1408.1,819.8 1420.5,813.1 1432.9,800.7 1445.3,784.7 1457.8,767.3 1470.2,748.1 1482.6,729.6 1495.0,711.8 1507.4,694.0 1519.8,676.7 1532.2,660.5 1544.6,646.1 1557.0,633.5 1569.5,622.1 1581.9,611.5 1594.3,600.9 1606.7,589.8 1619.1,577.5 1631.5,566.1 1643.9,557.4 1656.3,548.8 1668.7,542.4 1681.1,537.7 1693.5,539.3 1706.0,540.9 1718.4,540.9 1730.8,540.9 1743.2,540.9 1755.6,540.9 1768.0,540.9 1780.4,540.9 1792.8,540.9 1805.2,540.9 1817.7,540.9 1830.1,540.9" fill="none" stroke="#ff4d00" stroke-width="2.8" stroke-linejoin="round" marker-start="url(#m8)" marker-mid="url(#m8)" marker-end="url(#m8)"/>
<polyline points="1383.3,786.7 1395.7,820.5 1408.1,820.5 1420.5,816.0 1432.9,805.5 1445.3,790.7 1457.8,773.9 1470.2,754.9 1482.6,736.3 1495.0,718.5 1507.4,700.6 1519.8,683.3 1532.2,667.1 1544.6,652.8 1557.0,640.5 1569.5,629.6 1581.9,619.4 1594.3,609.2 1606.7,598.4 1619.1,586.2 1631.5,574.5 1643.9,564.8 1656.3,555.1 1668.7,547.7 1681.1,541.7 1693.5,541.7 1706.0,542.4 1718.4,542.6 1730.8,542.7 1743.2,542.9 1755.6,543.0 1768.0,543.0 1780.4,543.1 1792.8,543.1 1805.2,543.2 1817.7,543.2 1830.1,543.2" fill="none" stroke="#808080" stroke-width="2.8" stroke-linejoin="round" marker-start="url(#m9)" marker-mid="url(#m9)" marker-end="url(#m9)"/>
<polyline points="1383.3,789.2 1395.7,821.3 1408.1,821.3 1420.5,818.3 1432.9,807.7 1445.3,792.2 1457.8,776.4 1470.2,759.3 1482.6,743.0 1495.0,727.8 1507.4,713.1 1519.8,698.8 1532.2,685.1 1544.6,672.2 1557.0,660.2 1569.5,649.3 1581.9,638.6 1594.3,627.5 1606.7,615.5 1619.1,601.1 1631.5,587.3 1643.9,577.0 1656.3,567.6 1668.7,557.3 1681.1,549.4 1693.5,542.4 1706.0,540.0 1718.4,540.9 1730.8,541.1 1743.2,541.3 1755.6,541.4 1768.0,541.5 1780.4,541.6 1792.8,541.6 1805.2,541.7 1817.7,541.7 1830.1,541.7" fill="none" stroke="#ff0000" stroke-width="2.8" stroke-linejoin="round" marker-start="url(#m10)" marker-mid="url(#m10)" marker-end="url(#m10)"/>
<polyline points="1383.3,807.6 1395.7,822.0 1408.1,822.0 1420.5,819.8 1432.9,815.3 1445.3,808.6 1457.8,798.7 1470.2,785.7 1482.6,772.1 1495.0,758.1 1507.4,743.2 1519.8,727.8 1532.2,712.6 1544.6,698.2 1557.0,684.8 1569.5,671.8 1581.9,659.1 1594.3,646.4 1606.7,633.4 1619.1,619.6 1631.5,606.6 1643.9,596.1 1656.3,584.9 1668.7,574.5 1681.1,564.8 1693.5,555.9 1706.0,547.7 1718.4,544.7 1730.8,544.7 1743.2,544.7 1755.6,544.7 1768.0,544.7 1780.4,544.7 1792.8,544.7 1805.2,544.7 1817.7,544.7 1830.1,544.7" fill="none" stroke="#00ff00" stroke-width="2.8" stroke-linejoin="round" marker-start="url(#m11)" marker-mid="url(#m11)" marker-end="url(#m11)"/>
<polyline points="1383.3,810.1 1395.7,822.0 1408.1,822.0 1420.5,820.5 1432.9,815.3 1445.3,807.1 1457.8,797.7 1470.2,786.7 1482.6,775.0 1495.0,763.1 1507.4,750.4 1519.8,737.4 1532.2,724.4 1544.6,711.7 1557.0,699.3 1569.5,687.1 1581.9,675.0 1594.3,662.9 1606.7,650.8 1619.1,638.6 1631.5,626.6 1643.9,614.0 1656.3,598.7 1668.7,583.6 1681.1,571.3 1693.5,560.7 1706.0,552.1 1718.4,547.3 1730.8,546.5 1743.2,546.4 1755.6,546.4 1768.0,546.3 1780.4,546.2 1792.8,546.2 1805.2,546.2 1817.7,546.2 1830.1,546.2" fill="none" stroke="#0000ff" stroke-width="2.8" stroke-linejoin="round" marker-start="url(#m12)" marker-mid="url(#m12)" marker-end="url(#m12)"/>
<polyline points="1383.3,810.8 1395.7,822.0 1408.1,822.0 1420.5,821.3 1432.9,817.4 1445.3,810.8 1457.8,803.1 1470.2,793.6 1482.6,783.2 1495.0,771.6 1507.4,758.4 1519.8,744.6 1532.2,731.0 1544.6,718.4 1557.0,706.7 1569.5,695.3 1581.9,684.3 1594.3,673.6 1606.7,663.3 1619.1,653.5 1631.5,644.6 1643.9,636.0 1656.3,628.3 1668.7,628.3 1681.1,633.1 1693.5,640.2 1706.0,648.0 1718.4,652.0 1730.8,652.0 1743.2,652.0 1755.6,652.0 1768.0,652.0 1780.4,652.0 1792.8,652.0 1805.2,652.0 1817.7,652.0 1830.1,652.0" fill="none" stroke="#ff00ff" stroke-width="2.8" stroke-linejoin="round" marker-start="url(#m13)" marker-mid="url(#m13)" marker-end="url(#m13)"/>
<polyline points="1383.3,813.1 1395.7,822.0 1408.1,822.0 1420.5,822.0 1432.9,819.0 1445.3,813.1 1457.8,806.2 1470.2,797.4 1482.6,787.7 1495.0,776.8 1507.4,764.3 1519.8,751.0 1532.2,737.4 1544.6,724.3 1557.0,710.7 1569.5,696.0 1581.9,681.8 1594.3,669.7 1606.7,661.0 1619.1,654.8 1631.5,649.5 1643.9,645.5 1656.3,643.3 1668.7,642.6 1681.1,643.3 1693.5,648.0 1706.0,650.5 1718.4,651.7 1730.8,651.7 1743.2,651.7 1755.6,651.7 1768.0,651.7 1780.4,651.7 1792.8,651.7 1805.2,651.7 1817.7,651.7 1830.1,651.7" fill="none" stroke="#00ffff" stroke-width="2.8" stroke-linejoin="round" marker-start="url(#m14)" marker-mid="url(#m14)" marker-end="url(#m14)"/>
<polyline points="1383.3,814.5 1395.7,822.0 1408.1,822.0 1420.5,822.0 1432.9,820.0 1445.3,816.0 1457.8,811.5 1470.2,805.8 1482.6,798.9 1495.0,790.3 1507.4,779.6 1519.8,767.7 1532.2,755.3 1544.6,743.0 1557.0,730.0 1569.5,715.9 1581.9,701.8 1594.3,689.0 1606.7,678.9 1619.1,671.9 1631.5,665.4 1643.9,657.5 1656.3,652.0 1668.7,649.8 1681.1,649.8 1693.5,649.8 1706.0,650.2 1718.4,650.5 1730.8,650.5 1743.2,650.5 1755.6,650.5 1768.0,650.5 1780.4,650.5 1792.8,650.5 1805.2,650.5 1817.7,650.5 1830.1,650.5" fill="none" stroke="#ffff00" stroke-width="2.8" stroke-linejoin="round" marker-start="url(#m15)" marker-mid="url(#m15)" marker-end="url(#m15)"/>
<polyline points="1383.3,816.0 1395.7,822.0 1408.1,822.0 1420.5,822.0 1432.9,820.3 1445.3,816.8 1457.8,812.6 1470.2,807.0 1482.6,800.4 1495.0,792.1 1507.4,781.7 1519.8,770.1 1532.2,758.0 1544.6,746.0 1557.0,733.3 1569.5,719.5 1581.9,705.8 1594.3,693.1 1606.7,682.6 1619.1,673.8 1631.5,665.9 1643.9,659.2 1656.3,654.3 1668.7,651.3 1681.1,651.0 1693.5,650.9 1706.0,650.9 1718.4,650.9 1730.8,650.9 1743.2,650.9 1755.6,651.0 1768.0,651.0 1780.4,651.1 1792.8,651.1 1805.2,651.2 1817.7,651.4 1830.1,651.5" fill="none" stroke="#000000" stroke-width="2.8" stroke-linejoin="round" marker-start="url(#m16)" marker-mid="url(#m16)" marker-end="url(#m16)"/>
<polyline points="1383.3,817.5 1395.7,822.0 1408.1,822.0 1420.5,822.0 1432.9,820.2 1445.3,816.8 1457.8,812.9 1470.2,807.9 1482.6,801.9 1495.0,794.0 1507.4,784.0 1519.8,772.7 1532.2,760.8 1544.6,748.9 1557.0,736.4 1569.5,722.7 1581.9,708.9 1594.3,696.2 1606.7,685.6 1619.1,676.8 1631.5,668.8 1643.9,661.9 1656.3,656.5 1668.7,652.8 1681.1,651.7 1693.5,651.3 1706.0,651.3 1718.4,651.3 1730.8,651.3 1743.2,651.3 1755.6,651.3 1768.0,651.3 1780.4,651.4 1792.8,651.4 1805.2,651.5 1817.7,651.6 1830.1,651.7" fill="none" stroke="#ff4d00" stroke-width="2.8" stroke-linejoin="round" marker-start="url(#m17)" marker-mid="url(#m17)" marker-end="url(#m17)"/>
<polyline points="1383.3,818.3 1395.7,822.0 1408.1,822.0 1420.5,822.0 1432.9,820.5 1445.3,817.5 1457.8,813.8 1470.2,808.7 1482.6,802.6 1495.0,795.0 1507.4,785.5 1519.8,774.8 1532.2,763.4 1544.6,751.9 1557.0,739.6 1569.5,726.0 1581.9,712.3 1594.3,699.4 1606.7,688.6 1619.1,679.3 1631.5,670.9 1643.9,663.6 1656.3,658.0 1668.7,654.3 1681.1,652.7 1693.5,652.0 1706.0,652.0 1718.4,652.0 1730.8,652.0 1743.2,652.0 1755.6,652.0 1768.0,652.0 1780.4,652.0 1792.8,652.0 1805.2,652.0 1817.7,652.0 1830.1,652.0" fill="none" stroke="#808080" stroke-width="2.8" stroke-linejoin="round" marker-start="url(#m18)" marker-mid="url(#m18)" marker-end="url(#m18)"/>
<polyline points="1383.3,819.8 1395.7,822.0 1408.1,822.0 1420.5,822.0 1432.9,820.5 1445.3,817.5 1457.8,813.9 1470.2,809.1 1482.6,803.4 1495.0,796.0 1507.4,786.7 1519.8,776.4 1532.2,765.7 1544.6,755.7 1557.0,746.2 1569.5,736.7 1581.9,727.2 1594.3,717.6 1606.7,707.9 1619.1,697.5 1631.5,686.5 1643.9,676.1 1656.3,667.7 1668.7,661.7 1681.1,657.2 1693.5,654.6 1706.0,654.3 1718.4,654.3 1730.8,654.3 1743.2,654.3 1755.6,654.3 1768.0,654.3 1780.4,654.3 1792.8,654.4 1805.2,654.5 1817.7,654.5 1830.1,654.6" fill="none" stroke="#ff0000" stroke-width="2.8" stroke-linejoin="round" marker-start="url(#m19)" marker-mid="url(#m19)" marker-end="url(#m19)"/>
<polyline points="1383.3,819.8 1395.7,822.0 1408.1,822.0 1420.5,822.0 1432.9,820.8 1445.3,818.3 1457.8,814.8 1470.2,809.9 1482.6,804.1 1495.0,796.7 1507.4,787.4 1519.8,777.0 1532.2,766.4 1544.6,756.4 1557.0,747.1 1569.5,738.0 1581.9,728.9 1594.3,719.7 1606.7,710.2 1619.1,699.6 1631.5,688.4 1643.9,677.8 1656.3,669.2 1668.7,663.2 1681.1,658.7 1693.5,655.8 1706.0,655.4 1718.4,655.4 1730.8,655.4 1743.2,655.4 1755.6,655.4 1768.0,655.4 1780.4,655.5 1792.8,655.6 1805.2,655.6 1817.7,655.8 1830.1,655.9" fill="none" stroke="#00ff00" stroke-width="2.8" stroke-linejoin="round" marker-start="url(#m20)" marker-mid="url(#m20)" marker-end="url(#m20)"/>
<polyline points="1383.3,819.8 1395.7,822.0 1408.1,822.0 1420.5,822.0 1432.9,821.0 1445.3,819.0 1457.8,816.2 1470.2,812.0 1482.6,807.1 1495.0,800.6 1507.4,792.2 1519.8,782.9 1532.2,773.7 1544.6,765.3 1557.0,758.4 1569.5,752.0 1581.9,745.8 1594.3,739.0 1606.7,731.0 1619.1,720.3 1631.5,707.3 1643.9,694.4 1656.3,684.1 1668.7,676.7 1681.1,670.7 1693.5,665.4 1706.0,662.2 1718.4,661.7 1730.8,661.7 1743.2,661.7 1755.6,661.7 1768.0,661.7 1780.4,661.7 1792.8,661.7 1805.2,661.7 1817.7,661.7 1830.1,661.7" fill="none" stroke="#0000ff" stroke-width="2.8" stroke-linejoin="round" marker-start="url(#m21)" marker-mid="url(#m21)" marker-end="url(#m21)"/>
<polyline points="1383.3,819.8 1395.7,822.0 1408.1,822.0 1420.5,822.0 1432.9,821.3 1445.3,819.8 1457.8,817.2 1470.2,813.3 1482.6,808.6 1495.0,802.3 1507.4,794.1 1519.8,784.9 1532.2,775.8 1544.6,767.6 1557.0,760.7 1569.5,754.6 1581.9,748.5 1594.3,741.8 1606.7,734.0 1619.1,723.6 1631.5,710.9 1643.9,698.2 1656.3,687.8 1668.7,680.2 1681.1,673.6 1693.5,667.7 1706.0,664.0 1718.4,662.5 1730.8,662.5 1743.2,662.5 1755.6,662.5 1768.0,662.5 1780.4,662.5 1792.8,662.5 1805.2,662.5 1817.7,662.5 1830.1,662.5" fill="none" stroke="#ff00ff" stroke-width="2.8" stroke-linejoin="round" marker-start="url(#m22)" marker-mid="url(#m22)" marker-end="url(#m22)"/>
<polyline points="1383.3,819.8 1395.7,822.0 1408.1,822.0 1420.5,822.0 1432.9,821.2 1445.3,819.8 1457.8,818.1 1470.2,815.9 1482.6,813.1 1495.0,808.4 1507.4,801.6 1519.8,793.6 1532.2,785.1 1544.6,777.3 1557.0,770.0 1569.5,762.8 1581.9,755.5 1594.3,748.0 1606.7,740.0 1619.1,731.5 1631.5,722.6 1643.9,713.3 1656.3,703.8 1668.7,694.3 1681.1,684.4 1693.5,673.7 1706.0,665.7 1718.4,661.3 1730.8,660.9 1743.2,660.9 1755.6,660.9 1768.0,660.9 1780.4,660.9 1792.8,660.9 1805.2,660.9 1817.7,660.9 1830.1,660.9" fill="none" stroke="#00ffff" stroke-width="2.8" stroke-linejoin="round" marker-start="url(#m23)" marker-mid="url(#m23)" marker-end="url(#m23)"/>
<polyline points="1383.3,819.8 1395.7,822.0 1408.1,822.0 1420.5,822.0 1432.9,821.5 1445.3,820.5 1457.8,819.2 1470.2,817.2 1482.6,814.5 1495.0,810.2 1507.4,803.5 1519.8,795.6 1532.2,787.3 1544.6,779.5 1557.0,772.3 1569.5,765.2 1581.9,757.8 1594.3,750.2 1606.7,742.2 1619.1,733.7 1631.5,724.6 1643.9,715.1 1656.3,705.5 1668.7,695.8 1681.1,685.9 1693.5,675.2 1706.0,667.2 1718.4,662.8 1730.8,662.4 1743.2,662.4 1755.6,662.4 1768.0,662.4 1780.4,662.4 1792.8,662.4 1805.2,662.4 1817.7,662.4 1830.1,662.4" fill="none" stroke="#ffff00" stroke-width="2.8" stroke-linejoin="round" marker-start="url(#m24)" marker-mid="url(#m24)" marker-end="url(#m24)"/>
<polyline points="1383.3,822.0 1395.7,822.0 1408.1,822.0 1420.5,822.0 1432.9,821.5 1445.3,820.5 1457.8,819.3 1470.2,817.6 1482.6,815.3 1495.0,811.2 1507.4,804.7 1519.8,796.9 1532.2,788.7 1544.6,781.0 1557.0,773.9 1569.5,766.8 1581.9,759.5 1594.3,752.1 1606.7,744.5 1619.1,735.5 1631.5,725.6 1643.9,716.9 1656.3,711.7 1668.7,709.1 1681.1,707.9 1693.5,708.7 1706.0,713.2 1718.4,716.1 1730.8,716.3 1743.2,716.5 1755.6,716.6 1768.0,716.7 1780.4,716.8 1792.8,716.8 1805.2,716.9 1817.7,716.9 1830.1,716.9" fill="none" stroke="#000000" stroke-width="2.8" stroke-linejoin="round" marker-start="url(#m25)" marker-mid="url(#m25)" marker-end="url(#m25)"/>
<polyline points="1383.3,822.0 1395.7,822.0 1408.1,822.0 1420.5,822.0 1432.9,821.5 1445.3,820.5 1457.8,819.4 1470.2,818.0 1482.6,816.0 1495.0,812.3 1507.4,806.1 1519.8,798.6 1532.2,790.7 1544.6,783.2 1557.0,776.2 1569.5,769.0 1581.9,761.6 1594.3,754.2 1606.7,746.7 1619.1,738.3 1631.5,729.3 1643.9,721.3 1656.3,716.1 1668.7,713.5 1681.1,711.7 1693.5,710.2 1706.0,713.9 1718.4,716.9 1730.8,717.1 1743.2,717.2 1755.6,717.4 1768.0,717.5 1780.4,717.5 1792.8,717.6 1805.2,717.6 1817.7,717.6 1830.1,717.6" fill="none" stroke="#ff4d00" stroke-width="2.8" stroke-linejoin="round" marker-start="url(#m26)" marker-mid="url(#m26)" marker-end="url(#m26)"/>
<polyline points="1383.3,822.0 1395.7,822.0 1408.1,822.0 1420.5,822.0 1432.9,821.6 1445.3,820.7 1457.8,819.8 1470.2,818.5 1482.6,816.8 1495.0,813.3 1507.4,807.5 1519.8,800.4 1532.2,792.7 1544.6,785.5 1557.0,778.6 1569.5,771.4 1581.9,764.0 1594.3,756.5 1606.7,749.1 1619.1,741.0 1631.5,732.4 1643.9,724.7 1656.3,719.3 1668.7,716.3 1681.1,713.9 1693.5,711.7 1706.0,714.6 1718.4,717.6 1730.8,717.7 1743.2,717.8 1755.6,717.9 1768.0,717.9 1780.4,718.0 1792.8,718.0 1805.2,718.0 1817.7,718.0 1830.1,718.0" fill="none" stroke="#808080" stroke-width="2.8" stroke-linejoin="round" marker-start="url(#m27)" marker-mid="url(#m27)" marker-end="url(#m27)"/>
<polyline points="1383.3,822.0 1395.7,822.0 1408.1,822.0 1420.5,822.0 1432.9,821.6 1445.3,820.9 1457.8,820.1 1470.2,819.0 1482.6,817.5 1495.0,814.3 1507.4,808.9 1519.8,802.1 1532.2,794.7 1544.6,787.7 1557.0,780.9 1569.5,773.8 1581.9,766.4 1594.3,758.9 1606.7,751.6 1619.1,743.7 1631.5,735.5 1643.9,728.0 1656.3,722.5 1668.7,719.0 1681.1,716.1 1693.5,713.2 1706.0,715.4 1718.4,717.6 1730.8,717.8 1743.2,718.0 1755.6,718.1 1768.0,718.2 1780.4,718.3 1792.8,718.3 1805.2,718.4 1817.7,718.4 1830.1,718.4" fill="none" stroke="#ff0000" stroke-width="2.8" stroke-linejoin="round" marker-start="url(#m28)" marker-mid="url(#m28)" marker-end="url(#m28)"/>
<polyline points="1383.3,822.0 1395.7,822.0 1408.1,822.0 1420.5,822.0 1432.9,821.7 1445.3,821.1 1457.8,820.4 1470.2,819.5 1482.6,818.3 1495.0,815.4 1507.4,810.3 1519.8,803.8 1532.2,796.7 1544.6,789.9 1557.0,783.3 1569.5,776.1 1581.9,768.7 1594.3,761.3 1606.7,754.0 1619.1,746.4 1631.5,738.6 1643.9,731.3 1656.3,725.6 1668.7,721.7 1681.1,718.4 1693.5,715.4 1706.0,717.6 1718.4,719.9 1730.8,720.1 1743.2,720.2 1755.6,720.3 1768.0,720.4 1780.4,720.5 1792.8,720.6 1805.2,720.6 1817.7,720.6 1830.1,720.6" fill="none" stroke="#00ff00" stroke-width="2.8" stroke-linejoin="round" marker-start="url(#m29)" marker-mid="url(#m29)" marker-end="url(#m29)"/>
<polyline points="1383.3,822.0 1395.7,822.0 1408.1,822.0 1420.5,822.0 1432.9,821.7 1445.3,821.3 1457.8,820.7 1470.2,820.0 1482.6,819.0 1495.0,816.5 1507.4,811.8 1519.8,805.7 1532.2,799.0 1544.6,792.2 1557.0,784.7 1569.5,775.9 1581.9,766.7 1594.3,757.9 1606.7,750.4 1619.1,744.3 1631.5,738.7 1643.9,733.6 1656.3,728.8 1668.7,724.5 1681.1,720.6 1693.5,716.9 1706.0,719.1 1718.4,721.4 1730.8,721.6 1743.2,721.7 1755.6,721.8 1768.0,721.9 1780.4,722.0 1792.8,722.1 1805.2,722.1 1817.7,722.1 1830.1,722.1" fill="none" stroke="#0000ff" stroke-width="2.8" stroke-linejoin="round" marker-start="url(#m30)" marker-mid="url(#m30)" marker-end="url(#m30)"/>
<polyline points="1383.3,820.5 1395.7,820.5 1408.1,820.5 1420.5,820.5 1432.9,820.5 1445.3,820.5 1457.8,820.2 1470.2,819.4 1482.6,818.3 1495.0,815.9 1507.4,811.6 1519.8,806.0 1532.2,799.8 1544.6,793.7 1557.0,786.8 1569.5,778.8 1581.9,770.4 1594.3,762.7 1606.7,756.4 1619.1,751.8 1631.5,747.9 1643.9,744.2 1656.3,740.0 1668.7,734.5 1681.1,729.6 1693.5,726.6 1706.0,722.1 1718.4,722.1 1730.8,722.1 1743.2,722.1 1755.6,722.1 1768.0,722.1 1780.4,722.1 1792.8,722.1 1805.2,722.1 1817.7,722.1 1830.1,722.1" fill="none" stroke="#ff00ff" stroke-width="2.8" stroke-linejoin="round" marker-start="url(#m31)" marker-mid="url(#m31)" marker-end="url(#m31)"/>
<polyline points="1383.3,820.9 1395.7,820.9 1408.1,820.9 1420.5,820.9 1432.9,820.9 1445.3,820.9 1457.8,820.6 1470.2,819.8 1482.6,818.6 1495.0,816.3 1507.4,812.0 1519.8,806.4 1532.2,800.2 1544.6,794.0 1557.0,787.2 1569.5,779.2 1581.9,770.8 1594.3,763.0 1606.7,756.8 1619.1,752.1 1631.5,748.3 1643.9,744.6 1656.3,740.4 1668.7,734.9 1681.1,729.9 1693.5,726.9 1706.0,722.5 1718.4,722.5 1730.8,722.5 1743.2,722.5 1755.6,722.5 1768.0,722.5 1780.4,722.5 1792.8,722.5 1805.2,722.5 1817.7,722.5 1830.1,722.5" fill="none" stroke="#00ffff" stroke-width="2.8" stroke-linejoin="round" marker-start="url(#m32)" marker-mid="url(#m32)" marker-end="url(#m32)"/>
<polyline points="1383.3,821.3 1395.7,821.3 1408.1,821.3 1420.5,821.3 1432.9,821.3 1445.3,821.3 1457.8,820.9 1470.2,820.1 1482.6,819.0 1495.0,816.6 1507.4,812.3 1519.8,806.8 1532.2,800.6 1544.6,794.4 1557.0,787.6 1569.5,779.5 1581.9,771.2 1594.3,763.4 1606.7,757.1 1619.1,752.5 1631.5,748.7 1643.9,744.9 1656.3,740.7 1668.7,735.3 1681.1,730.3 1693.5,727.3 1706.0,722.8 1718.4,722.8 1730.8,722.8 1743.2,722.8 1755.6,722.8 1768.0,722.8 1780.4,722.8 1792.8,722.8 1805.2,722.8 1817.7,722.8 1830.1,722.8" fill="none" stroke="#ffff00" stroke-width="2.8" stroke-linejoin="round" marker-start="url(#m33)" marker-mid="url(#m33)" marker-end="url(#m33)"/>
<polyline points="1383.3,821.6 1395.7,821.6 1408.1,821.6 1420.5,821.6 1432.9,821.6 1445.3,821.6 1457.8,821.3 1470.2,820.5 1482.6,819.4 1495.0,817.0 1507.4,812.7 1519.8,807.1 1532.2,800.9 1544.6,794.8 1557.0,788.0 1569.5,779.9 1581.9,771.6 1594.3,763.8 1606.7,757.5 1619.1,752.9 1631.5,749.0 1643.9,745.3 1656.3,741.1 1668.7,735.7 1681.1,730.7 1693.5,727.7 1706.0,722.8 1718.4,722.8 1730.8,722.8 1743.2,722.8 1755.6,722.8 1768.0,722.8 1780.4,722.8 1792.8,722.8 1805.2,722.8 1817.7,722.8 1830.1,722.8" fill="none" stroke="#000000" stroke-width="2.8" stroke-linejoin="round" marker-start="url(#m34)" marker-mid="url(#m34)" marker-end="url(#m34)"/>
<polyline points="1383.3,822.0 1395.7,822.0 1408.1,822.0 1420.5,822.0 1432.9,822.0 1445.3,822.0 1457.8,821.7 1470.2,820.9 1482.6,819.8 1495.0,817.4 1507.4,813.1 1519.8,807.5 1532.2,801.3 1544.6,795.2 1557.0,788.3 1569.5,780.3 1581.9,771.9 1594.3,764.2 1606.7,757.9 1619.1,753.3 1631.5,749.4 1643.9,745.7 1656.3,741.5 1668.7,736.0 1681.1,731.0 1693.5,728.1 1706.0,728.8 1718.4,730.5 1730.8,733.1 1743.2,736.2 1755.6,739.5 1768.0,742.5 1780.4,745.2 1792.8,747.9 1805.2,750.6 1817.7,753.4 1830.1,756.1" fill="none" stroke="#ff4d00" stroke-width="2.8" stroke-linejoin="round" marker-start="url(#m35)" marker-mid="url(#m35)" marker-end="url(#m35)"/>
<polyline points="1383.3,822.0 1395.7,822.0 1408.1,822.0 1420.5,822.0 1432.9,822.0 1445.3,822.0 1457.8,821.7 1470.2,821.0 1482.6,819.9 1495.0,817.6 1507.4,813.4 1519.8,808.0 1532.2,801.9 1544.6,795.9 1557.0,789.2 1569.5,781.3 1581.9,773.1 1594.3,765.5 1606.7,759.4 1619.1,754.9 1631.5,751.1 1643.9,747.5 1656.3,743.4 1668.7,738.0 1681.1,733.3 1693.5,731.0 1706.0,731.8 1718.4,733.3 1730.8,735.6 1743.2,738.4 1755.6,741.3 1768.0,743.9 1780.4,746.4 1792.8,748.8 1805.2,751.2 1817.7,753.7 1830.1,756.1" fill="none" stroke="#808080" stroke-width="2.8" stroke-linejoin="round" marker-start="url(#m36)" marker-mid="url(#m36)" marker-end="url(#m36)"/>
<polyline points="1383.3,822.0 1395.7,822.0 1408.1,822.0 1420.5,822.0 1432.9,822.0 1445.3,822.0 1457.8,821.7 1470.2,821.0 1482.6,820.1 1495.0,817.8 1507.4,813.8 1519.8,808.5 1532.2,802.5 1544.6,796.7 1557.0,790.1 1569.5,782.4 1581.9,774.3 1594.3,766.9 1606.7,760.9 1619.1,756.5 1631.5,752.9 1643.9,749.4 1656.3,745.4 1668.7,739.7 1681.1,734.8 1693.5,732.5 1706.0,733.3 1718.4,734.8 1730.8,736.9 1743.2,739.5 1755.6,742.2 1768.0,744.7 1780.4,747.0 1792.8,749.2 1805.2,751.5 1817.7,753.8 1830.1,756.0" fill="none" stroke="#ff0000" stroke-width="2.8" stroke-linejoin="round" marker-start="url(#m37)" marker-mid="url(#m37)" marker-end="url(#m37)"/>
<polyline points="1383.3,822.0 1395.7,822.0 1408.1,822.0 1420.5,822.0 1432.9,822.0 1445.3,822.0 1457.8,821.8 1470.2,821.1 1482.6,820.2 1495.0,818.1 1507.4,814.1 1519.8,808.9 1532.2,803.1 1544.6,797.4 1557.0,791.0 1569.5,783.4 1581.9,775.5 1594.3,768.2 1606.7,762.4 1619.1,758.0 1631.5,754.5 1643.9,751.0 1656.3,747.3 1668.7,742.6 1681.1,738.5 1693.5,736.3 1706.0,736.3 1718.4,737.0 1730.8,738.9 1743.2,741.5 1755.6,744.3 1768.0,746.7 1780.4,748.8 1792.8,750.9 1805.2,753.0 1817.7,755.1 1830.1,757.1" fill="none" stroke="#00ff00" stroke-width="2.8" stroke-linejoin="round" marker-start="url(#m38)" marker-mid="url(#m38)" marker-end="url(#m38)"/>
<polyline points="1383.3,822.0 1395.7,822.0 1408.1,822.0 1420.5,822.0 1432.9,822.0 1445.3,822.0 1457.8,821.8 1470.2,821.2 1482.6,820.4 1495.0,818.3 1507.4,814.5 1519.8,809.4 1532.2,803.8 1544.6,798.1 1557.0,791.9 1569.5,784.5 1581.9,776.7 1594.3,769.6 1606.7,763.9 1619.1,759.5 1631.5,755.9 1643.9,752.5 1656.3,749.2 1668.7,745.9 1681.1,743.0 1693.5,740.7 1706.0,741.5 1718.4,742.7 1730.8,744.5 1743.2,746.5 1755.6,748.5 1768.0,750.4 1780.4,752.2 1792.8,754.0 1805.2,755.8 1817.7,757.6 1830.1,759.4" fill="none" stroke="#0000ff" stroke-width="2.8" stroke-linejoin="round" marker-start="url(#m39)" marker-mid="url(#m39)" marker-end="url(#m39)"/>
<polyline points="1383.3,822.0 1395.7,822.0 1408.1,822.0 1420.5,822.0 1432.9,822.0 1445.3,822.0 1457.8,821.8 1470.2,821.3 1482.6,820.5 1495.0,818.6 1507.4,814.8 1519.8,809.9 1532.2,804.4 1544.6,798.9 1557.0,792.8 1569.5,785.5 1581.9,777.9 1594.3,770.9 1606.7,765.3 1619.1,761.3 1631.5,758.0 1643.9,754.8 1656.3,751.2 1668.7,746.4 1681.1,742.2 1693.5,740.0 1706.0,739.6 1718.4,740.2 1730.8,741.5 1743.2,743.3 1755.6,745.3 1768.0,747.0 1780.4,748.5 1792.8,750.0 1805.2,751.4 1817.7,752.9 1830.1,754.4" fill="none" stroke="#ff00ff" stroke-width="2.8" stroke-linejoin="round" marker-start="url(#m40)" marker-mid="url(#m40)" marker-end="url(#m40)"/>
<rect x="139.0" y="2.3" width="446.8" height="893.5" fill="none" stroke="#000" stroke-width="5.8"/>
<rect x="761.0" y="2.3" width="446.8" height="893.5" fill="none" stroke="#000" stroke-width="5.8"/>
<rect x="1383.3" y="2.3" width="446.8" height="893.5" fill="none" stroke="#000" stroke-width="5.8"/>
<g font-family="Liberation Sans, Arial, Helvetica, sans-serif" font-size="40" fill="#000">
<text transform="translate(144.6 950.3) scale(1 1.05)" text-anchor="middle">0</text>
<text transform="translate(206.7 950.3) scale(1 1.05)" text-anchor="middle">5</text>
<text transform="translate(268.7 950.3) scale(1 1.05)" text-anchor="middle">10</text>
<text transform="translate(330.8 950.3) scale(1 1.05)" text-anchor="middle">15</text>
<text transform="translate(392.8 950.3) scale(1 1.05)" text-anchor="middle">20</text>
<text transform="translate(454.9 950.3) scale(1 1.05)" text-anchor="middle">25</text>
<text transform="translate(516.9 950.3) scale(1 1.05)" text-anchor="middle">30</text>
<text transform="translate(579.0 950.3) scale(1 1.05)" text-anchor="middle">35</text>
<text transform="translate(117.3 837.1) scale(1 1.05)" text-anchor="end">0</text>
<text transform="translate(117.3 688.0) scale(1 1.05)" text-anchor="end">0.2</text>
<text transform="translate(117.3 538.9) scale(1 1.05)" text-anchor="end">0.4</text>
<text transform="translate(117.3 389.8) scale(1 1.05)" text-anchor="end">0.6</text>
<text transform="translate(117.3 240.7) scale(1 1.05)" text-anchor="end">0.8</text>
<text transform="translate(117.3 91.6) scale(1 1.05)" text-anchor="end">1</text>
<text x="361.4" y="1009" text-anchor="middle" font-size="39.4"># of iteration</text>
<text transform="translate(29.7 449.2) rotate(-90)" text-anchor="middle" font-size="39.4">normalized singular value</text>
<text transform="translate(766.6 950.3) scale(1 1.05)" text-anchor="middle">0</text>
<text transform="translate(828.6 950.3) scale(1 1.05)" text-anchor="middle">5</text>
<text transform="translate(890.7 950.3) scale(1 1.05)" text-anchor="middle">10</text>
<text transform="translate(952.8 950.3) scale(1 1.05)" text-anchor="middle">15</text>
<text transform="translate(1014.8 950.3) scale(1 1.05)" text-anchor="middle">20</text>
<text transform="translate(1076.8 950.3) scale(1 1.05)" text-anchor="middle">25</text>
<text transform="translate(1138.9 950.3) scale(1 1.05)" text-anchor="middle">30</text>
<text transform="translate(1200.9 950.3) scale(1 1.05)" text-anchor="middle">35</text>
<text transform="translate(739.3 837.1) scale(1 1.05)" text-anchor="end">0</text>
<text transform="translate(739.3 688.0) scale(1 1.05)" text-anchor="end">0.2</text>
<text transform="translate(739.3 538.9) scale(1 1.05)" text-anchor="end">0.4</text>
<text transform="translate(739.3 389.8) scale(1 1.05)" text-anchor="end">0.6</text>
<text transform="translate(739.3 240.7) scale(1 1.05)" text-anchor="end">0.8</text>
<text transform="translate(739.3 91.6) scale(1 1.05)" text-anchor="end">1</text>
<text x="983.4" y="1009" text-anchor="middle" font-size="39.4"># of iteration</text>
<text transform="translate(651.7 449.2) rotate(-90)" text-anchor="middle" font-size="39.4">normalized singular value</text>
<text transform="translate(1388.9 950.3) scale(1 1.05)" text-anchor="middle">0</text>
<text transform="translate(1450.9 950.3) scale(1 1.05)" text-anchor="middle">5</text>
<text transform="translate(1513.0 950.3) scale(1 1.05)" text-anchor="middle">10</text>
<text transform="translate(1575.0 950.3) scale(1 1.05)" text-anchor="middle">15</text>
<text transform="translate(1637.1 950.3) scale(1 1.05)" text-anchor="middle">20</text>
<text transform="translate(1699.1 950.3) scale(1 1.05)" text-anchor="middle">25</text>
<text transform="translate(1761.2 950.3) scale(1 1.05)" text-anchor="middle">30</text>
<text transform="translate(1823.2 950.3) scale(1 1.05)" text-anchor="middle">35</text>
<text transform="translate(1361.6 837.1) scale(1 1.05)" text-anchor="end">0</text>
<text transform="translate(1361.6 688.0) scale(1 1.05)" text-anchor="end">0.2</text>
<text transform="translate(1361.6 538.9) scale(1 1.05)" text-anchor="end">0.4</text>
<text transform="translate(1361.6 389.8) scale(1 1.05)" text-anchor="end">0.6</text>
<text transform="translate(1361.6 240.7) scale(1 1.05)" text-anchor="end">0.8</text>
<text transform="translate(1361.6 91.6) scale(1 1.05)" text-anchor="end">1</text>
<text x="1605.7" y="1009" text-anchor="middle" font-size="39.4"># of iteration</text>
<text transform="translate(1274.0 449.2) rotate(-90)" text-anchor="middle" font-size="39.4">normalized singular value</text>
</g>
</svg>
</body></html>
